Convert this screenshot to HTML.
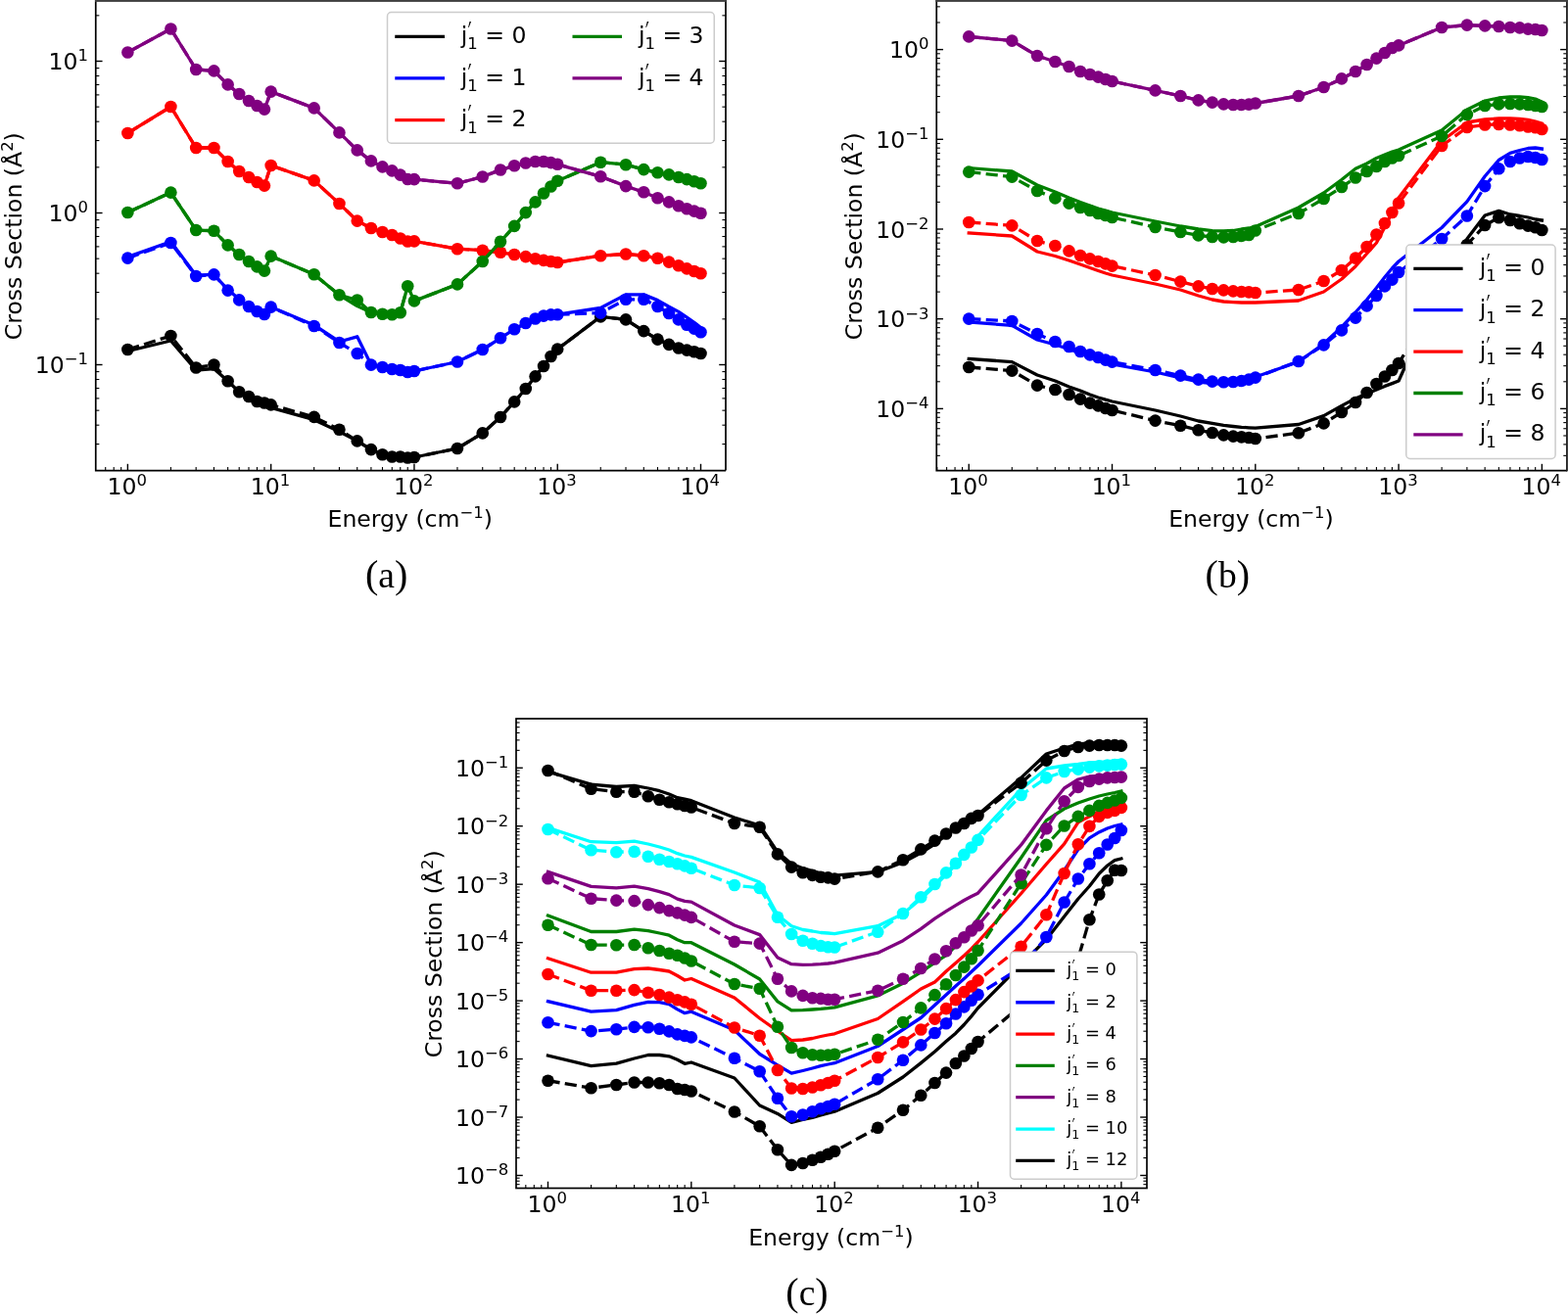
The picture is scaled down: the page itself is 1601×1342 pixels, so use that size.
<!DOCTYPE html><html><head><meta charset="utf-8"><title>Cross sections</title><style>html,body{margin:0;padding:0;background:#fff;}svg{display:block;}text{font-kerning:normal;}</style></head><body>
<svg width="1601" height="1342" viewBox="0 0 1601 1342">
<rect width="1601" height="1342" fill="#fff"/>
<defs>
<clipPath id="clipA"><rect x="97.75" y="0.75" width="643.25" height="479.85"/></clipPath>
<clipPath id="clipB"><rect x="956.25" y="0.75" width="643.65" height="479.85"/></clipPath>
<clipPath id="clipC"><rect x="527" y="734" width="644" height="479.5"/></clipPath>
</defs>
<g clip-path="url(#clipA)" fill="none" stroke-linejoin="round">
<polyline points="130.38,358.5 174.41,348 200.17,378 218.45,376.5 232.63,389.3 244.21,400.3 254,405 262.48,410 269.97,411.5 276.66,416.4 320.69,428.7 346.45,440.7 364.73,450.4 378.91,459.1 390.49,464.3 400.28,466.5 408.76,466.5 416.25,467.5 422.94,467 466.97,458 492.73,442.4 511.01,426 525.19,410.4 536.77,397 546.56,384.4 555.04,374 562.53,364 569.22,356.6 613.25,323.4 639.01,326.4 657.29,338.1 671.47,346.6 683.05,351.9 692.84,355.5 701.32,357.6 708.81,359.3 715.5,361" stroke="#000000" stroke-width="3.3" stroke-linecap="square"/>
<polyline points="130.38,357 174.41,343 200.17,375.5 218.45,372.5 232.63,389.3 244.21,400.3 254,405 262.48,410 269.97,411.5 276.66,413.4 320.69,425.9 346.45,438.7 364.73,450.4 378.91,459.1 390.49,464.3 400.28,466.5 408.76,466.5 416.25,467.5 422.94,467 466.97,458 492.73,442.4 511.01,426 525.19,410.4 536.77,397 546.56,384.4 555.04,374 562.53,364 569.22,356.6 613.25,323.4 639.01,326.4 657.29,338.1 671.47,346.6 683.05,351.9 692.84,355.5 701.32,357.6 708.81,359.3 715.5,361" stroke="#000000" stroke-width="3.3" stroke-dasharray="12.21 5.28"/>
<g fill="#000000"><circle cx="130.38" cy="357" r="6.3"/><circle cx="174.41" cy="343" r="6.3"/><circle cx="200.17" cy="375.5" r="6.3"/><circle cx="218.45" cy="372.5" r="6.3"/><circle cx="232.63" cy="389.3" r="6.3"/><circle cx="244.21" cy="400.3" r="6.3"/><circle cx="254" cy="405" r="6.3"/><circle cx="262.48" cy="410" r="6.3"/><circle cx="269.97" cy="411.5" r="6.3"/><circle cx="276.66" cy="413.4" r="6.3"/><circle cx="320.69" cy="425.9" r="6.3"/><circle cx="346.45" cy="438.7" r="6.3"/><circle cx="364.73" cy="450.4" r="6.3"/><circle cx="378.91" cy="459.1" r="6.3"/><circle cx="390.49" cy="464.3" r="6.3"/><circle cx="400.28" cy="466.5" r="6.3"/><circle cx="408.76" cy="466.5" r="6.3"/><circle cx="416.25" cy="467.5" r="6.3"/><circle cx="422.94" cy="467" r="6.3"/><circle cx="466.97" cy="458" r="6.3"/><circle cx="492.73" cy="442.4" r="6.3"/><circle cx="511.01" cy="426" r="6.3"/><circle cx="525.19" cy="410.4" r="6.3"/><circle cx="536.77" cy="397" r="6.3"/><circle cx="546.56" cy="384.4" r="6.3"/><circle cx="555.04" cy="374" r="6.3"/><circle cx="562.53" cy="364" r="6.3"/><circle cx="569.22" cy="356.6" r="6.3"/><circle cx="613.25" cy="323.4" r="6.3"/><circle cx="639.01" cy="326.4" r="6.3"/><circle cx="657.29" cy="338.1" r="6.3"/><circle cx="671.47" cy="346.6" r="6.3"/><circle cx="683.05" cy="351.9" r="6.3"/><circle cx="692.84" cy="355.5" r="6.3"/><circle cx="701.32" cy="357.6" r="6.3"/><circle cx="708.81" cy="359.3" r="6.3"/><circle cx="715.5" cy="361" r="6.3"/></g>
<polyline points="130.38,262.4 174.41,246.8 200.17,281.2 218.45,280.4 232.63,295.8 244.21,305.6 254,313 262.48,318 269.97,321 276.66,313.6 320.69,332 346.45,349 364.73,343.8 378.91,372.6 390.49,375 400.28,377 408.76,378 416.25,380 422.94,379 466.97,369.5 492.73,357 511.01,345.3 525.19,336.2 536.77,330 546.56,325.5 555.04,322.6 562.53,321.4 569.22,321.2 613.25,314.5 639.01,300.9 657.29,300.9 671.47,306.6 683.05,313.2 692.84,318.4 701.32,324.1 708.81,329.3 715.5,334.6" stroke="#0000ff" stroke-width="3.3" stroke-linecap="square"/>
<polyline points="130.38,263.6 174.41,248 200.17,282 218.45,280.4 232.63,296.6 244.21,306.4 254,313 262.48,318 269.97,321 276.66,313.6 320.69,333 346.45,350 364.73,361 378.91,372.6 390.49,375 400.28,377 408.76,378 416.25,380 422.94,379 466.97,369.5 492.73,357 511.01,345.3 525.19,336.2 536.77,330 546.56,325.5 555.04,322.6 562.53,321.4 569.22,321.2 613.25,319.6 639.01,305.8 657.29,305.8 671.47,313 683.05,320 692.84,326.4 701.32,331.7 708.81,335.6 715.5,339.2" stroke="#0000ff" stroke-width="3.3" stroke-dasharray="12.21 5.28"/>
<g fill="#0000ff"><circle cx="130.38" cy="263.6" r="6.3"/><circle cx="174.41" cy="248" r="6.3"/><circle cx="200.17" cy="282" r="6.3"/><circle cx="218.45" cy="280.4" r="6.3"/><circle cx="232.63" cy="296.6" r="6.3"/><circle cx="244.21" cy="306.4" r="6.3"/><circle cx="254" cy="313" r="6.3"/><circle cx="262.48" cy="318" r="6.3"/><circle cx="269.97" cy="321" r="6.3"/><circle cx="276.66" cy="313.6" r="6.3"/><circle cx="320.69" cy="333" r="6.3"/><circle cx="346.45" cy="350" r="6.3"/><circle cx="364.73" cy="361" r="6.3"/><circle cx="378.91" cy="372.6" r="6.3"/><circle cx="390.49" cy="375" r="6.3"/><circle cx="400.28" cy="377" r="6.3"/><circle cx="408.76" cy="378" r="6.3"/><circle cx="416.25" cy="380" r="6.3"/><circle cx="422.94" cy="379" r="6.3"/><circle cx="466.97" cy="369.5" r="6.3"/><circle cx="492.73" cy="357" r="6.3"/><circle cx="511.01" cy="345.3" r="6.3"/><circle cx="525.19" cy="336.2" r="6.3"/><circle cx="536.77" cy="330" r="6.3"/><circle cx="546.56" cy="325.5" r="6.3"/><circle cx="555.04" cy="322.6" r="6.3"/><circle cx="562.53" cy="321.4" r="6.3"/><circle cx="569.22" cy="321.2" r="6.3"/><circle cx="613.25" cy="319.6" r="6.3"/><circle cx="639.01" cy="305.8" r="6.3"/><circle cx="657.29" cy="305.8" r="6.3"/><circle cx="671.47" cy="313" r="6.3"/><circle cx="683.05" cy="320" r="6.3"/><circle cx="692.84" cy="326.4" r="6.3"/><circle cx="701.32" cy="331.7" r="6.3"/><circle cx="708.81" cy="335.6" r="6.3"/><circle cx="715.5" cy="339.2" r="6.3"/></g>
<polyline points="130.38,136 174.41,109 200.17,151 218.45,151 232.63,165 244.21,175 254,181 262.48,186 269.97,189.6 276.66,169 320.69,184.4 346.45,208 364.73,225.6 378.91,233 390.49,237 400.28,240 408.76,243.5 416.25,246.5 422.94,246.4 466.97,254.2 492.73,255.7 511.01,257.8 525.19,260 536.77,262.1 546.56,264.2 555.04,265.9 562.53,267 569.22,268 613.25,261.2 639.01,259.5 657.29,261.2 671.47,263.8 683.05,267.6 692.84,271.2 701.32,274.4 708.81,277 715.5,279.3" stroke="#ff0000" stroke-width="3.3" stroke-linecap="square"/>
<polyline points="130.38,136 174.41,109 200.17,151 218.45,151 232.63,165 244.21,175 254,181 262.48,186 269.97,189.6 276.66,169 320.69,184.4 346.45,208 364.73,225.6 378.91,233 390.49,237 400.28,240 408.76,243.5 416.25,246.5 422.94,246.4 466.97,254.2 492.73,255.7 511.01,257.8 525.19,260 536.77,262.1 546.56,264.2 555.04,265.9 562.53,267 569.22,268 613.25,261.2 639.01,259.5 657.29,261.2 671.47,263.8 683.05,267.6 692.84,271.2 701.32,274.4 708.81,277 715.5,279.3" stroke="#ff0000" stroke-width="3.3" stroke-dasharray="12.21 5.28"/>
<g fill="#ff0000"><circle cx="130.38" cy="136" r="6.3"/><circle cx="174.41" cy="109" r="6.3"/><circle cx="200.17" cy="151" r="6.3"/><circle cx="218.45" cy="151" r="6.3"/><circle cx="232.63" cy="165" r="6.3"/><circle cx="244.21" cy="175" r="6.3"/><circle cx="254" cy="181" r="6.3"/><circle cx="262.48" cy="186" r="6.3"/><circle cx="269.97" cy="189.6" r="6.3"/><circle cx="276.66" cy="169" r="6.3"/><circle cx="320.69" cy="184.4" r="6.3"/><circle cx="346.45" cy="208" r="6.3"/><circle cx="364.73" cy="225.6" r="6.3"/><circle cx="378.91" cy="233" r="6.3"/><circle cx="390.49" cy="237" r="6.3"/><circle cx="400.28" cy="240" r="6.3"/><circle cx="408.76" cy="243.5" r="6.3"/><circle cx="416.25" cy="246.5" r="6.3"/><circle cx="422.94" cy="246.4" r="6.3"/><circle cx="466.97" cy="254.2" r="6.3"/><circle cx="492.73" cy="255.7" r="6.3"/><circle cx="511.01" cy="257.8" r="6.3"/><circle cx="525.19" cy="260" r="6.3"/><circle cx="536.77" cy="262.1" r="6.3"/><circle cx="546.56" cy="264.2" r="6.3"/><circle cx="555.04" cy="265.9" r="6.3"/><circle cx="562.53" cy="267" r="6.3"/><circle cx="569.22" cy="268" r="6.3"/><circle cx="613.25" cy="261.2" r="6.3"/><circle cx="639.01" cy="259.5" r="6.3"/><circle cx="657.29" cy="261.2" r="6.3"/><circle cx="671.47" cy="263.8" r="6.3"/><circle cx="683.05" cy="267.6" r="6.3"/><circle cx="692.84" cy="271.2" r="6.3"/><circle cx="701.32" cy="274.4" r="6.3"/><circle cx="708.81" cy="277" r="6.3"/><circle cx="715.5" cy="279.3" r="6.3"/></g>
<polyline points="130.38,217 174.41,196.6 200.17,235 218.45,235.8 232.63,250.4 244.21,260 254,267 262.48,272.4 269.97,276.6 276.66,261.6 320.69,280.2 346.45,301.3 364.73,312.5 378.91,319 390.49,320.8 400.28,321.2 408.76,319.2 416.25,292.2 422.94,307.4 466.97,290.4 492.73,267 511.01,246.8 525.19,230.9 536.77,217.1 546.56,206.4 555.04,197.5 562.53,190.5 569.22,184.8 613.25,165.7 639.01,168.2 657.29,173.1 671.47,176.3 683.05,178.4 692.84,181 701.32,183.1 708.81,185.2 715.5,187.3" stroke="#008000" stroke-width="3.3" stroke-linecap="square"/>
<polyline points="130.38,217 174.41,196.6 200.17,235 218.45,235.8 232.63,250.4 244.21,260 254,267 262.48,272.4 269.97,276.6 276.66,261.6 320.69,280.2 346.45,301.3 364.73,306.5 378.91,319 390.49,320.8 400.28,321.2 408.76,319.2 416.25,292.2 422.94,307.4 466.97,290.4 492.73,267 511.01,246.8 525.19,230.9 536.77,217.1 546.56,206.4 555.04,197.5 562.53,190.5 569.22,184.8 613.25,165.7 639.01,168.2 657.29,173.1 671.47,176.3 683.05,178.4 692.84,181 701.32,183.1 708.81,185.2 715.5,187.3" stroke="#008000" stroke-width="3.3" stroke-dasharray="12.21 5.28"/>
<g fill="#008000"><circle cx="130.38" cy="217" r="6.3"/><circle cx="174.41" cy="196.6" r="6.3"/><circle cx="200.17" cy="235" r="6.3"/><circle cx="218.45" cy="235.8" r="6.3"/><circle cx="232.63" cy="250.4" r="6.3"/><circle cx="244.21" cy="260" r="6.3"/><circle cx="254" cy="267" r="6.3"/><circle cx="262.48" cy="272.4" r="6.3"/><circle cx="269.97" cy="276.6" r="6.3"/><circle cx="276.66" cy="261.6" r="6.3"/><circle cx="320.69" cy="280.2" r="6.3"/><circle cx="346.45" cy="301.3" r="6.3"/><circle cx="364.73" cy="306.5" r="6.3"/><circle cx="378.91" cy="319" r="6.3"/><circle cx="390.49" cy="320.8" r="6.3"/><circle cx="400.28" cy="321.2" r="6.3"/><circle cx="408.76" cy="319.2" r="6.3"/><circle cx="416.25" cy="292.2" r="6.3"/><circle cx="422.94" cy="307.4" r="6.3"/><circle cx="466.97" cy="290.4" r="6.3"/><circle cx="492.73" cy="267" r="6.3"/><circle cx="511.01" cy="246.8" r="6.3"/><circle cx="525.19" cy="230.9" r="6.3"/><circle cx="536.77" cy="217.1" r="6.3"/><circle cx="546.56" cy="206.4" r="6.3"/><circle cx="555.04" cy="197.5" r="6.3"/><circle cx="562.53" cy="190.5" r="6.3"/><circle cx="569.22" cy="184.8" r="6.3"/><circle cx="613.25" cy="165.7" r="6.3"/><circle cx="639.01" cy="168.2" r="6.3"/><circle cx="657.29" cy="173.1" r="6.3"/><circle cx="671.47" cy="176.3" r="6.3"/><circle cx="683.05" cy="178.4" r="6.3"/><circle cx="692.84" cy="181" r="6.3"/><circle cx="701.32" cy="183.1" r="6.3"/><circle cx="708.81" cy="185.2" r="6.3"/><circle cx="715.5" cy="187.3" r="6.3"/></g>
<polyline points="130.38,53.5 174.41,29.5 200.17,71 218.45,72.4 232.63,86.4 244.21,96 254,103 262.48,108 269.97,111.6 276.66,93.6 320.69,110.4 346.45,135.4 364.73,153.4 378.91,164.4 390.49,170.4 400.28,174.4 408.76,178.6 416.25,183 422.94,183.1 466.97,187.3 492.73,180.5 511.01,173.5 525.19,169.3 536.77,166.5 546.56,165 555.04,165 562.53,166.1 569.22,167.8 613.25,180.3 639.01,190.1 657.29,196.3 671.47,202.2 683.05,206.4 692.84,210.3 701.32,213.2 708.81,215.6 715.5,217.7" stroke="#800080" stroke-width="3.3" stroke-linecap="square"/>
<polyline points="130.38,53.5 174.41,29.5 200.17,71 218.45,72.4 232.63,86.4 244.21,96 254,103 262.48,108 269.97,111.6 276.66,93.6 320.69,110.4 346.45,135.4 364.73,153.4 378.91,164.4 390.49,170.4 400.28,174.4 408.76,178.6 416.25,183 422.94,183.1 466.97,187.3 492.73,180.5 511.01,173.5 525.19,169.3 536.77,166.5 546.56,165 555.04,165 562.53,166.1 569.22,167.8 613.25,180.3 639.01,190.1 657.29,196.3 671.47,202.2 683.05,206.4 692.84,210.3 701.32,213.2 708.81,215.6 715.5,217.7" stroke="#800080" stroke-width="3.3" stroke-dasharray="12.21 5.28"/>
<g fill="#800080"><circle cx="130.38" cy="53.5" r="6.3"/><circle cx="174.41" cy="29.5" r="6.3"/><circle cx="200.17" cy="71" r="6.3"/><circle cx="218.45" cy="72.4" r="6.3"/><circle cx="232.63" cy="86.4" r="6.3"/><circle cx="244.21" cy="96" r="6.3"/><circle cx="254" cy="103" r="6.3"/><circle cx="262.48" cy="108" r="6.3"/><circle cx="269.97" cy="111.6" r="6.3"/><circle cx="276.66" cy="93.6" r="6.3"/><circle cx="320.69" cy="110.4" r="6.3"/><circle cx="346.45" cy="135.4" r="6.3"/><circle cx="364.73" cy="153.4" r="6.3"/><circle cx="378.91" cy="164.4" r="6.3"/><circle cx="390.49" cy="170.4" r="6.3"/><circle cx="400.28" cy="174.4" r="6.3"/><circle cx="408.76" cy="178.6" r="6.3"/><circle cx="416.25" cy="183" r="6.3"/><circle cx="422.94" cy="183.1" r="6.3"/><circle cx="466.97" cy="187.3" r="6.3"/><circle cx="492.73" cy="180.5" r="6.3"/><circle cx="511.01" cy="173.5" r="6.3"/><circle cx="525.19" cy="169.3" r="6.3"/><circle cx="536.77" cy="166.5" r="6.3"/><circle cx="546.56" cy="165" r="6.3"/><circle cx="555.04" cy="165" r="6.3"/><circle cx="562.53" cy="166.1" r="6.3"/><circle cx="569.22" cy="167.8" r="6.3"/><circle cx="613.25" cy="180.3" r="6.3"/><circle cx="639.01" cy="190.1" r="6.3"/><circle cx="657.29" cy="196.3" r="6.3"/><circle cx="671.47" cy="202.2" r="6.3"/><circle cx="683.05" cy="206.4" r="6.3"/><circle cx="692.84" cy="210.3" r="6.3"/><circle cx="701.32" cy="213.2" r="6.3"/><circle cx="708.81" cy="215.6" r="6.3"/><circle cx="715.5" cy="217.7" r="6.3"/></g>
</g>
<g stroke="#000" fill="none"><line x1="107.72" y1="480.6" x2="107.72" y2="477" stroke-width="1.1"/><line x1="116.2" y1="480.6" x2="116.2" y2="477" stroke-width="1.1"/><line x1="123.69" y1="480.6" x2="123.69" y2="477" stroke-width="1.1"/><line x1="130.38" y1="480.6" x2="130.38" y2="473.8" stroke-width="1.4"/><line x1="174.41" y1="480.6" x2="174.41" y2="477" stroke-width="1.1"/><line x1="200.17" y1="480.6" x2="200.17" y2="477" stroke-width="1.1"/><line x1="218.45" y1="480.6" x2="218.45" y2="477" stroke-width="1.1"/><line x1="232.63" y1="480.6" x2="232.63" y2="477" stroke-width="1.1"/><line x1="244.21" y1="480.6" x2="244.21" y2="477" stroke-width="1.1"/><line x1="254" y1="480.6" x2="254" y2="477" stroke-width="1.1"/><line x1="262.48" y1="480.6" x2="262.48" y2="477" stroke-width="1.1"/><line x1="269.97" y1="480.6" x2="269.97" y2="477" stroke-width="1.1"/><line x1="276.66" y1="480.6" x2="276.66" y2="473.8" stroke-width="1.4"/><line x1="320.69" y1="480.6" x2="320.69" y2="477" stroke-width="1.1"/><line x1="346.45" y1="480.6" x2="346.45" y2="477" stroke-width="1.1"/><line x1="364.73" y1="480.6" x2="364.73" y2="477" stroke-width="1.1"/><line x1="378.91" y1="480.6" x2="378.91" y2="477" stroke-width="1.1"/><line x1="390.49" y1="480.6" x2="390.49" y2="477" stroke-width="1.1"/><line x1="400.28" y1="480.6" x2="400.28" y2="477" stroke-width="1.1"/><line x1="408.76" y1="480.6" x2="408.76" y2="477" stroke-width="1.1"/><line x1="416.25" y1="480.6" x2="416.25" y2="477" stroke-width="1.1"/><line x1="422.94" y1="480.6" x2="422.94" y2="473.8" stroke-width="1.4"/><line x1="466.97" y1="480.6" x2="466.97" y2="477" stroke-width="1.1"/><line x1="492.73" y1="480.6" x2="492.73" y2="477" stroke-width="1.1"/><line x1="511.01" y1="480.6" x2="511.01" y2="477" stroke-width="1.1"/><line x1="525.19" y1="480.6" x2="525.19" y2="477" stroke-width="1.1"/><line x1="536.77" y1="480.6" x2="536.77" y2="477" stroke-width="1.1"/><line x1="546.56" y1="480.6" x2="546.56" y2="477" stroke-width="1.1"/><line x1="555.04" y1="480.6" x2="555.04" y2="477" stroke-width="1.1"/><line x1="562.53" y1="480.6" x2="562.53" y2="477" stroke-width="1.1"/><line x1="569.22" y1="480.6" x2="569.22" y2="473.8" stroke-width="1.4"/><line x1="613.25" y1="480.6" x2="613.25" y2="477" stroke-width="1.1"/><line x1="639.01" y1="480.6" x2="639.01" y2="477" stroke-width="1.1"/><line x1="657.29" y1="480.6" x2="657.29" y2="477" stroke-width="1.1"/><line x1="671.47" y1="480.6" x2="671.47" y2="477" stroke-width="1.1"/><line x1="683.05" y1="480.6" x2="683.05" y2="477" stroke-width="1.1"/><line x1="692.84" y1="480.6" x2="692.84" y2="477" stroke-width="1.1"/><line x1="701.32" y1="480.6" x2="701.32" y2="477" stroke-width="1.1"/><line x1="708.81" y1="480.6" x2="708.81" y2="477" stroke-width="1.1"/><line x1="715.5" y1="480.6" x2="715.5" y2="473.8" stroke-width="1.4"/><line x1="97.75" y1="453.55" x2="101.35" y2="453.55" stroke-width="1.1"/><line x1="741" y1="453.55" x2="737.4" y2="453.55" stroke-width="1.1"/><line x1="97.75" y1="434.18" x2="101.35" y2="434.18" stroke-width="1.1"/><line x1="741" y1="434.18" x2="737.4" y2="434.18" stroke-width="1.1"/><line x1="97.75" y1="419.16" x2="101.35" y2="419.16" stroke-width="1.1"/><line x1="741" y1="419.16" x2="737.4" y2="419.16" stroke-width="1.1"/><line x1="97.75" y1="406.89" x2="101.35" y2="406.89" stroke-width="1.1"/><line x1="741" y1="406.89" x2="737.4" y2="406.89" stroke-width="1.1"/><line x1="97.75" y1="396.51" x2="101.35" y2="396.51" stroke-width="1.1"/><line x1="741" y1="396.51" x2="737.4" y2="396.51" stroke-width="1.1"/><line x1="97.75" y1="387.52" x2="101.35" y2="387.52" stroke-width="1.1"/><line x1="741" y1="387.52" x2="737.4" y2="387.52" stroke-width="1.1"/><line x1="97.75" y1="379.59" x2="101.35" y2="379.59" stroke-width="1.1"/><line x1="741" y1="379.59" x2="737.4" y2="379.59" stroke-width="1.1"/><line x1="97.75" y1="372.5" x2="104.55" y2="372.5" stroke-width="1.4"/><line x1="741" y1="372.5" x2="734.2" y2="372.5" stroke-width="1.4"/><line x1="97.75" y1="325.84" x2="101.35" y2="325.84" stroke-width="1.1"/><line x1="741" y1="325.84" x2="737.4" y2="325.84" stroke-width="1.1"/><line x1="97.75" y1="298.55" x2="101.35" y2="298.55" stroke-width="1.1"/><line x1="741" y1="298.55" x2="737.4" y2="298.55" stroke-width="1.1"/><line x1="97.75" y1="279.18" x2="101.35" y2="279.18" stroke-width="1.1"/><line x1="741" y1="279.18" x2="737.4" y2="279.18" stroke-width="1.1"/><line x1="97.75" y1="264.16" x2="101.35" y2="264.16" stroke-width="1.1"/><line x1="741" y1="264.16" x2="737.4" y2="264.16" stroke-width="1.1"/><line x1="97.75" y1="251.89" x2="101.35" y2="251.89" stroke-width="1.1"/><line x1="741" y1="251.89" x2="737.4" y2="251.89" stroke-width="1.1"/><line x1="97.75" y1="241.51" x2="101.35" y2="241.51" stroke-width="1.1"/><line x1="741" y1="241.51" x2="737.4" y2="241.51" stroke-width="1.1"/><line x1="97.75" y1="232.52" x2="101.35" y2="232.52" stroke-width="1.1"/><line x1="741" y1="232.52" x2="737.4" y2="232.52" stroke-width="1.1"/><line x1="97.75" y1="224.59" x2="101.35" y2="224.59" stroke-width="1.1"/><line x1="741" y1="224.59" x2="737.4" y2="224.59" stroke-width="1.1"/><line x1="97.75" y1="217.5" x2="104.55" y2="217.5" stroke-width="1.4"/><line x1="741" y1="217.5" x2="734.2" y2="217.5" stroke-width="1.4"/><line x1="97.75" y1="170.84" x2="101.35" y2="170.84" stroke-width="1.1"/><line x1="741" y1="170.84" x2="737.4" y2="170.84" stroke-width="1.1"/><line x1="97.75" y1="143.55" x2="101.35" y2="143.55" stroke-width="1.1"/><line x1="741" y1="143.55" x2="737.4" y2="143.55" stroke-width="1.1"/><line x1="97.75" y1="124.18" x2="101.35" y2="124.18" stroke-width="1.1"/><line x1="741" y1="124.18" x2="737.4" y2="124.18" stroke-width="1.1"/><line x1="97.75" y1="109.16" x2="101.35" y2="109.16" stroke-width="1.1"/><line x1="741" y1="109.16" x2="737.4" y2="109.16" stroke-width="1.1"/><line x1="97.75" y1="96.89" x2="101.35" y2="96.89" stroke-width="1.1"/><line x1="741" y1="96.89" x2="737.4" y2="96.89" stroke-width="1.1"/><line x1="97.75" y1="86.51" x2="101.35" y2="86.51" stroke-width="1.1"/><line x1="741" y1="86.51" x2="737.4" y2="86.51" stroke-width="1.1"/><line x1="97.75" y1="77.52" x2="101.35" y2="77.52" stroke-width="1.1"/><line x1="741" y1="77.52" x2="737.4" y2="77.52" stroke-width="1.1"/><line x1="97.75" y1="69.59" x2="101.35" y2="69.59" stroke-width="1.1"/><line x1="741" y1="69.59" x2="737.4" y2="69.59" stroke-width="1.1"/><line x1="97.75" y1="62.5" x2="104.55" y2="62.5" stroke-width="1.4"/><line x1="741" y1="62.5" x2="734.2" y2="62.5" stroke-width="1.4"/><line x1="97.75" y1="15.84" x2="101.35" y2="15.84" stroke-width="1.1"/><line x1="741" y1="15.84" x2="737.4" y2="15.84" stroke-width="1.1"/></g>
<path d="M97.75,0 V480.6 H741" fill="none" stroke="#000" stroke-width="1.7" stroke-linejoin="miter"/>
<path d="M741,480.6 V0" fill="none" stroke="#000" stroke-width="1.7"/>
<rect x="97" y="0" width="644.75" height="1.9" fill="#404040"/>
<g font-family="'DejaVu Sans', 'Liberation Sans', sans-serif" fill="#000">
<text x="109.48" y="504.8" font-size="23.55">10</text>
<text x="139.45" y="495.9" font-size="16.48">0</text>
<text x="255.76" y="504.8" font-size="23.55">10</text>
<text x="285.73" y="495.9" font-size="16.48">1</text>
<text x="402.04" y="504.8" font-size="23.55">10</text>
<text x="432.01" y="495.9" font-size="16.48">2</text>
<text x="548.32" y="504.8" font-size="23.55">10</text>
<text x="578.29" y="495.9" font-size="16.48">3</text>
<text x="694.6" y="504.8" font-size="23.55">10</text>
<text x="724.57" y="495.9" font-size="16.48">4</text>
<text x="49.55" y="71.25" font-size="23.55">10</text>
<text x="79.51" y="62.35" font-size="16.48">1</text>
<text x="49.55" y="226.25" font-size="23.55">10</text>
<text x="79.51" y="217.35" font-size="16.48">0</text>
<text x="35.73" y="381.25" font-size="23.55">10</text>
<text x="65.7" y="372.35" font-size="16.48">−1</text>
</g>
<g font-family="'DejaVu Sans', 'Liberation Sans', sans-serif" fill="#000">
<text x="334.53" y="538.2" font-size="23.55">Energy (cm</text>
<text x="469.54" y="529.3" font-size="16.48">−1</text>
<text x="493.84" y="538.2" font-size="23.55">)</text>
<g transform="translate(21.8,241.18) rotate(-90)">
<text x="-106" y="0" font-size="23.55">Cross Section (Å</text>
<text x="86.32" y="-8.9" font-size="16.48">2</text>
<text x="96.81" y="0" font-size="23.55">)</text>
</g>
</g>
<rect x="395.5" y="12.5" width="333.75" height="133.75" rx="4" ry="4" fill="#fff" stroke="#cccccc" stroke-width="1.5"/>
<g font-family="'DejaVu Sans', 'Liberation Sans', sans-serif" fill="#000">
<line x1="403.25" y1="37.35" x2="454" y2="37.35" stroke="#000000" stroke-width="3.3"/>
<text x="470.7" y="43.94" font-size="23.55">j</text>
<text x="477.24" y="50.3" font-size="16.48">1</text>
<text x="0" y="0" font-size="16.48" transform="translate(477.71,44.96) scale(1,1.9)">′</text>
<text x="487.73" y="43.94" font-size="23.55" xml:space="preserve"> = 0</text>
<line x1="403.25" y1="79.95" x2="454" y2="79.95" stroke="#0000ff" stroke-width="3.3"/>
<text x="470.7" y="86.54" font-size="23.55">j</text>
<text x="477.24" y="92.9" font-size="16.48">1</text>
<text x="0" y="0" font-size="16.48" transform="translate(477.71,87.56) scale(1,1.9)">′</text>
<text x="487.73" y="86.54" font-size="23.55" xml:space="preserve"> = 1</text>
<line x1="403.25" y1="122.55" x2="454" y2="122.55" stroke="#ff0000" stroke-width="3.3"/>
<text x="470.7" y="129.14" font-size="23.55">j</text>
<text x="477.24" y="135.5" font-size="16.48">1</text>
<text x="0" y="0" font-size="16.48" transform="translate(477.71,130.16) scale(1,1.9)">′</text>
<text x="487.73" y="129.14" font-size="23.55" xml:space="preserve"> = 2</text>
<line x1="584.5" y1="37.35" x2="635" y2="37.35" stroke="#008000" stroke-width="3.3"/>
<text x="651.9" y="43.94" font-size="23.55">j</text>
<text x="658.44" y="50.3" font-size="16.48">1</text>
<text x="0" y="0" font-size="16.48" transform="translate(658.91,44.96) scale(1,1.9)">′</text>
<text x="668.93" y="43.94" font-size="23.55" xml:space="preserve"> = 3</text>
<line x1="584.5" y1="79.95" x2="635" y2="79.95" stroke="#800080" stroke-width="3.3"/>
<text x="651.9" y="86.54" font-size="23.55">j</text>
<text x="658.44" y="92.9" font-size="16.48">1</text>
<text x="0" y="0" font-size="16.48" transform="translate(658.91,87.56) scale(1,1.9)">′</text>
<text x="668.93" y="86.54" font-size="23.55" xml:space="preserve"> = 4</text>
</g>
<text x="394.6" y="600" font-family="'Liberation Serif', 'DejaVu Serif', serif" font-size="40" text-anchor="middle" fill="#000">(<tspan font-size="37.5">a</tspan>)</text>
<g clip-path="url(#clipB)" fill="none" stroke-linejoin="round">
<polyline points="989.25,366.4 1033.28,369.6 1059.04,383 1077.32,389 1091.5,395 1103.08,399 1112.87,403 1121.35,406 1128.84,408.2 1135.53,410 1179.56,419 1205.32,425 1223.6,430 1237.78,432.4 1249.36,434.4 1259.15,435.5 1267.63,436.3 1275.12,436.8 1281.81,437.2 1325.84,433.5 1351.6,424.6 1369.88,414.4 1384.06,407 1395.64,402 1405.43,398 1413.91,394.4 1421.4,391.6 1428.09,389 1472.12,291 1497.88,244 1516.16,220 1530.34,215.4 1541.92,219 1551.71,220.5 1560.19,222 1567.68,224 1574.37,225" stroke="#000000" stroke-width="3.3" stroke-linecap="square"/>
<polyline points="989.25,375 1033.28,378.6 1059.04,393.6 1077.32,398 1091.5,403 1103.08,407.6 1112.87,411.6 1121.35,414.4 1128.84,417 1135.53,419 1179.56,429.6 1205.32,434.7 1223.6,439.2 1237.78,442 1249.36,444.4 1259.15,445.6 1267.63,446.4 1275.12,447 1281.81,448 1325.84,442.2 1351.6,432.4 1369.88,421 1384.06,411 1395.64,401 1405.43,392 1413.91,384.5 1421.4,378 1428.09,371 1472.12,300 1497.88,250 1516.16,230 1530.34,222.2 1541.92,225 1551.71,228.3 1560.19,230.6 1567.68,232.3 1574.37,235" stroke="#000000" stroke-width="3.3" stroke-dasharray="12.21 5.28"/>
<g fill="#000000"><circle cx="989.25" cy="375" r="6.3"/><circle cx="1033.28" cy="378.6" r="6.3"/><circle cx="1059.04" cy="393.6" r="6.3"/><circle cx="1077.32" cy="398" r="6.3"/><circle cx="1091.5" cy="403" r="6.3"/><circle cx="1103.08" cy="407.6" r="6.3"/><circle cx="1112.87" cy="411.6" r="6.3"/><circle cx="1121.35" cy="414.4" r="6.3"/><circle cx="1128.84" cy="417" r="6.3"/><circle cx="1135.53" cy="419" r="6.3"/><circle cx="1179.56" cy="429.6" r="6.3"/><circle cx="1205.32" cy="434.7" r="6.3"/><circle cx="1223.6" cy="439.2" r="6.3"/><circle cx="1237.78" cy="442" r="6.3"/><circle cx="1249.36" cy="444.4" r="6.3"/><circle cx="1259.15" cy="445.6" r="6.3"/><circle cx="1267.63" cy="446.4" r="6.3"/><circle cx="1275.12" cy="447" r="6.3"/><circle cx="1281.81" cy="448" r="6.3"/><circle cx="1325.84" cy="442.2" r="6.3"/><circle cx="1351.6" cy="432.4" r="6.3"/><circle cx="1369.88" cy="421" r="6.3"/><circle cx="1384.06" cy="411" r="6.3"/><circle cx="1395.64" cy="401" r="6.3"/><circle cx="1405.43" cy="392" r="6.3"/><circle cx="1413.91" cy="384.5" r="6.3"/><circle cx="1421.4" cy="378" r="6.3"/><circle cx="1428.09" cy="371" r="6.3"/><circle cx="1472.12" cy="300" r="6.3"/><circle cx="1497.88" cy="250" r="6.3"/><circle cx="1516.16" cy="230" r="6.3"/><circle cx="1530.34" cy="222.2" r="6.3"/><circle cx="1541.92" cy="225" r="6.3"/><circle cx="1551.71" cy="228.3" r="6.3"/><circle cx="1560.19" cy="230.6" r="6.3"/><circle cx="1567.68" cy="232.3" r="6.3"/><circle cx="1574.37" cy="235" r="6.3"/></g>
<polyline points="989.25,329 1033.28,332.4 1059.04,347 1077.32,352 1091.5,356.5 1103.08,361 1112.87,364 1121.35,367 1128.84,369.5 1135.53,372 1179.56,380 1205.32,386 1223.6,390 1237.78,391.5 1249.36,392 1259.15,391.6 1267.63,390.5 1275.12,389 1281.81,385 1325.84,369.5 1351.6,351 1369.88,334 1384.06,319 1395.64,306 1405.43,294 1413.91,283 1421.4,274 1428.09,267 1472.12,232.5 1497.88,205.9 1516.16,180 1530.34,163.5 1541.92,156.3 1551.71,153.5 1560.19,151.5 1567.68,151 1574.37,152" stroke="#0000ff" stroke-width="3.3" stroke-linecap="square"/>
<polyline points="989.25,325.6 1033.28,328 1059.04,341 1077.32,349 1091.5,354 1103.08,359 1112.87,362.4 1121.35,365 1128.84,367.6 1135.53,369.6 1179.56,378 1205.32,383.6 1223.6,387.6 1237.78,389.6 1249.36,390.2 1259.15,390 1267.63,389 1275.12,387.6 1281.81,385.6 1325.84,369 1351.6,352.4 1369.88,337.4 1384.06,324.6 1395.64,312.4 1405.43,302 1413.91,292.4 1421.4,285.6 1428.09,278 1472.12,244 1497.88,220.5 1516.16,190.1 1530.34,172.3 1541.92,165 1551.71,161.5 1560.19,160 1567.68,161 1574.37,163" stroke="#0000ff" stroke-width="3.3" stroke-dasharray="12.21 5.28"/>
<g fill="#0000ff"><circle cx="989.25" cy="325.6" r="6.3"/><circle cx="1033.28" cy="328" r="6.3"/><circle cx="1059.04" cy="341" r="6.3"/><circle cx="1077.32" cy="349" r="6.3"/><circle cx="1091.5" cy="354" r="6.3"/><circle cx="1103.08" cy="359" r="6.3"/><circle cx="1112.87" cy="362.4" r="6.3"/><circle cx="1121.35" cy="365" r="6.3"/><circle cx="1128.84" cy="367.6" r="6.3"/><circle cx="1135.53" cy="369.6" r="6.3"/><circle cx="1179.56" cy="378" r="6.3"/><circle cx="1205.32" cy="383.6" r="6.3"/><circle cx="1223.6" cy="387.6" r="6.3"/><circle cx="1237.78" cy="389.6" r="6.3"/><circle cx="1249.36" cy="390.2" r="6.3"/><circle cx="1259.15" cy="390" r="6.3"/><circle cx="1267.63" cy="389" r="6.3"/><circle cx="1275.12" cy="387.6" r="6.3"/><circle cx="1281.81" cy="385.6" r="6.3"/><circle cx="1325.84" cy="369" r="6.3"/><circle cx="1351.6" cy="352.4" r="6.3"/><circle cx="1369.88" cy="337.4" r="6.3"/><circle cx="1384.06" cy="324.6" r="6.3"/><circle cx="1395.64" cy="312.4" r="6.3"/><circle cx="1405.43" cy="302" r="6.3"/><circle cx="1413.91" cy="292.4" r="6.3"/><circle cx="1421.4" cy="285.6" r="6.3"/><circle cx="1428.09" cy="278" r="6.3"/><circle cx="1472.12" cy="244" r="6.3"/><circle cx="1497.88" cy="220.5" r="6.3"/><circle cx="1516.16" cy="190.1" r="6.3"/><circle cx="1530.34" cy="172.3" r="6.3"/><circle cx="1541.92" cy="165" r="6.3"/><circle cx="1551.71" cy="161.5" r="6.3"/><circle cx="1560.19" cy="160" r="6.3"/><circle cx="1567.68" cy="161" r="6.3"/><circle cx="1574.37" cy="163" r="6.3"/></g>
<polyline points="989.25,238 1033.28,241 1059.04,257 1077.32,261.5 1091.5,266 1103.08,270 1112.87,273.5 1121.35,276.5 1128.84,279 1135.53,281 1179.56,290 1205.32,296 1223.6,302 1237.78,306 1249.36,308 1259.15,308.6 1267.63,309 1275.12,309 1281.81,309 1325.84,307 1351.6,298 1369.88,285 1384.06,272 1395.64,259 1405.43,248 1413.91,232 1421.4,217 1428.09,202 1472.12,144 1497.88,125 1516.16,122 1530.34,121 1541.92,121 1551.71,121.5 1560.19,122.3 1567.68,124 1574.37,126" stroke="#ff0000" stroke-width="3.3" stroke-linecap="square"/>
<polyline points="989.25,227 1033.28,230.4 1059.04,246 1077.32,251 1091.5,256.4 1103.08,261 1112.87,264.4 1121.35,267 1128.84,269.4 1135.53,271.6 1179.56,281 1205.32,287.6 1223.6,292.4 1237.78,295 1249.36,296.4 1259.15,297.4 1267.63,298 1275.12,298.4 1281.81,299 1325.84,296 1351.6,287 1369.88,276 1384.06,263.6 1395.64,252 1405.43,239.5 1413.91,228 1421.4,217 1428.09,207.5 1472.12,149 1497.88,130 1516.16,127.5 1530.34,127 1541.92,127.5 1551.71,128.3 1560.19,129.5 1567.68,130.3 1574.37,132" stroke="#ff0000" stroke-width="3.3" stroke-dasharray="12.21 5.28"/>
<g fill="#ff0000"><circle cx="989.25" cy="227" r="6.3"/><circle cx="1033.28" cy="230.4" r="6.3"/><circle cx="1059.04" cy="246" r="6.3"/><circle cx="1077.32" cy="251" r="6.3"/><circle cx="1091.5" cy="256.4" r="6.3"/><circle cx="1103.08" cy="261" r="6.3"/><circle cx="1112.87" cy="264.4" r="6.3"/><circle cx="1121.35" cy="267" r="6.3"/><circle cx="1128.84" cy="269.4" r="6.3"/><circle cx="1135.53" cy="271.6" r="6.3"/><circle cx="1179.56" cy="281" r="6.3"/><circle cx="1205.32" cy="287.6" r="6.3"/><circle cx="1223.6" cy="292.4" r="6.3"/><circle cx="1237.78" cy="295" r="6.3"/><circle cx="1249.36" cy="296.4" r="6.3"/><circle cx="1259.15" cy="297.4" r="6.3"/><circle cx="1267.63" cy="298" r="6.3"/><circle cx="1275.12" cy="298.4" r="6.3"/><circle cx="1281.81" cy="299" r="6.3"/><circle cx="1325.84" cy="296" r="6.3"/><circle cx="1351.6" cy="287" r="6.3"/><circle cx="1369.88" cy="276" r="6.3"/><circle cx="1384.06" cy="263.6" r="6.3"/><circle cx="1395.64" cy="252" r="6.3"/><circle cx="1405.43" cy="239.5" r="6.3"/><circle cx="1413.91" cy="228" r="6.3"/><circle cx="1421.4" cy="217" r="6.3"/><circle cx="1428.09" cy="207.5" r="6.3"/><circle cx="1472.12" cy="149" r="6.3"/><circle cx="1497.88" cy="130" r="6.3"/><circle cx="1516.16" cy="127.5" r="6.3"/><circle cx="1530.34" cy="127" r="6.3"/><circle cx="1541.92" cy="127.5" r="6.3"/><circle cx="1551.71" cy="128.3" r="6.3"/><circle cx="1560.19" cy="129.5" r="6.3"/><circle cx="1567.68" cy="130.3" r="6.3"/><circle cx="1574.37" cy="132" r="6.3"/></g>
<polyline points="989.25,171.6 1033.28,175 1059.04,189 1077.32,196 1091.5,202 1103.08,206.5 1112.87,210 1121.35,213 1128.84,215 1135.53,217 1179.56,226 1205.32,231 1223.6,234 1237.78,235.6 1249.36,236 1259.15,235.5 1267.63,234 1275.12,233 1281.81,231.5 1325.84,212 1351.6,197 1369.88,183.5 1384.06,172.3 1395.64,167 1405.43,161.5 1413.91,158 1421.4,155 1428.09,153 1472.12,133 1497.88,112 1516.16,103 1530.34,100 1541.92,99 1551.71,99 1560.19,99.6 1567.68,101 1574.37,104" stroke="#008000" stroke-width="3.3" stroke-linecap="square"/>
<polyline points="989.25,175.6 1033.28,180.6 1059.04,195 1077.32,202.4 1091.5,207.6 1103.08,212 1112.87,215 1121.35,218 1128.84,220 1135.53,222 1179.56,232 1205.32,237 1223.6,240.4 1237.78,242 1249.36,242.4 1259.15,242 1267.63,241 1275.12,240 1281.81,235.5 1325.84,218 1351.6,203 1369.88,191 1384.06,181.5 1395.64,175 1405.43,170 1413.91,165 1421.4,161.5 1428.09,159 1472.12,139 1497.88,117 1516.16,108 1530.34,106.4 1541.92,106 1551.71,106.4 1560.19,107 1567.68,108 1574.37,109" stroke="#008000" stroke-width="3.3" stroke-dasharray="12.21 5.28"/>
<g fill="#008000"><circle cx="989.25" cy="175.6" r="6.3"/><circle cx="1033.28" cy="180.6" r="6.3"/><circle cx="1059.04" cy="195" r="6.3"/><circle cx="1077.32" cy="202.4" r="6.3"/><circle cx="1091.5" cy="207.6" r="6.3"/><circle cx="1103.08" cy="212" r="6.3"/><circle cx="1112.87" cy="215" r="6.3"/><circle cx="1121.35" cy="218" r="6.3"/><circle cx="1128.84" cy="220" r="6.3"/><circle cx="1135.53" cy="222" r="6.3"/><circle cx="1179.56" cy="232" r="6.3"/><circle cx="1205.32" cy="237" r="6.3"/><circle cx="1223.6" cy="240.4" r="6.3"/><circle cx="1237.78" cy="242" r="6.3"/><circle cx="1249.36" cy="242.4" r="6.3"/><circle cx="1259.15" cy="242" r="6.3"/><circle cx="1267.63" cy="241" r="6.3"/><circle cx="1275.12" cy="240" r="6.3"/><circle cx="1281.81" cy="235.5" r="6.3"/><circle cx="1325.84" cy="218" r="6.3"/><circle cx="1351.6" cy="203" r="6.3"/><circle cx="1369.88" cy="191" r="6.3"/><circle cx="1384.06" cy="181.5" r="6.3"/><circle cx="1395.64" cy="175" r="6.3"/><circle cx="1405.43" cy="170" r="6.3"/><circle cx="1413.91" cy="165" r="6.3"/><circle cx="1421.4" cy="161.5" r="6.3"/><circle cx="1428.09" cy="159" r="6.3"/><circle cx="1472.12" cy="139" r="6.3"/><circle cx="1497.88" cy="117" r="6.3"/><circle cx="1516.16" cy="108" r="6.3"/><circle cx="1530.34" cy="106.4" r="6.3"/><circle cx="1541.92" cy="106" r="6.3"/><circle cx="1551.71" cy="106.4" r="6.3"/><circle cx="1560.19" cy="107" r="6.3"/><circle cx="1567.68" cy="108" r="6.3"/><circle cx="1574.37" cy="109" r="6.3"/></g>
<polyline points="989.25,37.4 1033.28,41.6 1059.04,57 1077.32,63 1091.5,68 1103.08,73 1112.87,76 1121.35,78.6 1128.84,81 1135.53,83 1179.56,92.4 1205.32,98 1223.6,102.4 1237.78,104.6 1249.36,106.4 1259.15,107 1267.63,107 1275.12,106.6 1281.81,105.5 1325.84,98 1351.6,89 1369.88,80.4 1384.06,73 1395.64,66 1405.43,59.6 1413.91,54 1421.4,49 1428.09,46.4 1472.12,28 1497.88,25.6 1516.16,26.4 1530.34,27 1541.92,28 1551.71,28.4 1560.19,29.6 1567.68,30 1574.37,31" stroke="#800080" stroke-width="3.3" stroke-linecap="square"/>
<polyline points="989.25,37.4 1033.28,41.6 1059.04,57 1077.32,63 1091.5,68 1103.08,73 1112.87,76 1121.35,78.6 1128.84,81 1135.53,83 1179.56,92.4 1205.32,98 1223.6,102.4 1237.78,104.6 1249.36,106.4 1259.15,107 1267.63,107 1275.12,106.6 1281.81,105.5 1325.84,98 1351.6,89 1369.88,80.4 1384.06,73 1395.64,66 1405.43,59.6 1413.91,54 1421.4,49 1428.09,46.4 1472.12,28 1497.88,25.6 1516.16,26.4 1530.34,27 1541.92,28 1551.71,28.4 1560.19,29.6 1567.68,30 1574.37,31" stroke="#800080" stroke-width="3.3" stroke-dasharray="12.21 5.28"/>
<g fill="#800080"><circle cx="989.25" cy="37.4" r="6.3"/><circle cx="1033.28" cy="41.6" r="6.3"/><circle cx="1059.04" cy="57" r="6.3"/><circle cx="1077.32" cy="63" r="6.3"/><circle cx="1091.5" cy="68" r="6.3"/><circle cx="1103.08" cy="73" r="6.3"/><circle cx="1112.87" cy="76" r="6.3"/><circle cx="1121.35" cy="78.6" r="6.3"/><circle cx="1128.84" cy="81" r="6.3"/><circle cx="1135.53" cy="83" r="6.3"/><circle cx="1179.56" cy="92.4" r="6.3"/><circle cx="1205.32" cy="98" r="6.3"/><circle cx="1223.6" cy="102.4" r="6.3"/><circle cx="1237.78" cy="104.6" r="6.3"/><circle cx="1249.36" cy="106.4" r="6.3"/><circle cx="1259.15" cy="107" r="6.3"/><circle cx="1267.63" cy="107" r="6.3"/><circle cx="1275.12" cy="106.6" r="6.3"/><circle cx="1281.81" cy="105.5" r="6.3"/><circle cx="1325.84" cy="98" r="6.3"/><circle cx="1351.6" cy="89" r="6.3"/><circle cx="1369.88" cy="80.4" r="6.3"/><circle cx="1384.06" cy="73" r="6.3"/><circle cx="1395.64" cy="66" r="6.3"/><circle cx="1405.43" cy="59.6" r="6.3"/><circle cx="1413.91" cy="54" r="6.3"/><circle cx="1421.4" cy="49" r="6.3"/><circle cx="1428.09" cy="46.4" r="6.3"/><circle cx="1472.12" cy="28" r="6.3"/><circle cx="1497.88" cy="25.6" r="6.3"/><circle cx="1516.16" cy="26.4" r="6.3"/><circle cx="1530.34" cy="27" r="6.3"/><circle cx="1541.92" cy="28" r="6.3"/><circle cx="1551.71" cy="28.4" r="6.3"/><circle cx="1560.19" cy="29.6" r="6.3"/><circle cx="1567.68" cy="30" r="6.3"/><circle cx="1574.37" cy="31" r="6.3"/></g>
</g>
<g stroke="#000" fill="none"><line x1="956.8" y1="480.6" x2="956.8" y2="477" stroke-width="1.1"/><line x1="966.59" y1="480.6" x2="966.59" y2="477" stroke-width="1.1"/><line x1="975.07" y1="480.6" x2="975.07" y2="477" stroke-width="1.1"/><line x1="982.56" y1="480.6" x2="982.56" y2="477" stroke-width="1.1"/><line x1="989.25" y1="480.6" x2="989.25" y2="473.8" stroke-width="1.4"/><line x1="1033.28" y1="480.6" x2="1033.28" y2="477" stroke-width="1.1"/><line x1="1059.04" y1="480.6" x2="1059.04" y2="477" stroke-width="1.1"/><line x1="1077.32" y1="480.6" x2="1077.32" y2="477" stroke-width="1.1"/><line x1="1091.5" y1="480.6" x2="1091.5" y2="477" stroke-width="1.1"/><line x1="1103.08" y1="480.6" x2="1103.08" y2="477" stroke-width="1.1"/><line x1="1112.87" y1="480.6" x2="1112.87" y2="477" stroke-width="1.1"/><line x1="1121.35" y1="480.6" x2="1121.35" y2="477" stroke-width="1.1"/><line x1="1128.84" y1="480.6" x2="1128.84" y2="477" stroke-width="1.1"/><line x1="1135.53" y1="480.6" x2="1135.53" y2="473.8" stroke-width="1.4"/><line x1="1179.56" y1="480.6" x2="1179.56" y2="477" stroke-width="1.1"/><line x1="1205.32" y1="480.6" x2="1205.32" y2="477" stroke-width="1.1"/><line x1="1223.6" y1="480.6" x2="1223.6" y2="477" stroke-width="1.1"/><line x1="1237.78" y1="480.6" x2="1237.78" y2="477" stroke-width="1.1"/><line x1="1249.36" y1="480.6" x2="1249.36" y2="477" stroke-width="1.1"/><line x1="1259.15" y1="480.6" x2="1259.15" y2="477" stroke-width="1.1"/><line x1="1267.63" y1="480.6" x2="1267.63" y2="477" stroke-width="1.1"/><line x1="1275.12" y1="480.6" x2="1275.12" y2="477" stroke-width="1.1"/><line x1="1281.81" y1="480.6" x2="1281.81" y2="473.8" stroke-width="1.4"/><line x1="1325.84" y1="480.6" x2="1325.84" y2="477" stroke-width="1.1"/><line x1="1351.6" y1="480.6" x2="1351.6" y2="477" stroke-width="1.1"/><line x1="1369.88" y1="480.6" x2="1369.88" y2="477" stroke-width="1.1"/><line x1="1384.06" y1="480.6" x2="1384.06" y2="477" stroke-width="1.1"/><line x1="1395.64" y1="480.6" x2="1395.64" y2="477" stroke-width="1.1"/><line x1="1405.43" y1="480.6" x2="1405.43" y2="477" stroke-width="1.1"/><line x1="1413.91" y1="480.6" x2="1413.91" y2="477" stroke-width="1.1"/><line x1="1421.4" y1="480.6" x2="1421.4" y2="477" stroke-width="1.1"/><line x1="1428.09" y1="480.6" x2="1428.09" y2="473.8" stroke-width="1.4"/><line x1="1472.12" y1="480.6" x2="1472.12" y2="477" stroke-width="1.1"/><line x1="1497.88" y1="480.6" x2="1497.88" y2="477" stroke-width="1.1"/><line x1="1516.16" y1="480.6" x2="1516.16" y2="477" stroke-width="1.1"/><line x1="1530.34" y1="480.6" x2="1530.34" y2="477" stroke-width="1.1"/><line x1="1541.92" y1="480.6" x2="1541.92" y2="477" stroke-width="1.1"/><line x1="1551.71" y1="480.6" x2="1551.71" y2="477" stroke-width="1.1"/><line x1="1560.19" y1="480.6" x2="1560.19" y2="477" stroke-width="1.1"/><line x1="1567.68" y1="480.6" x2="1567.68" y2="477" stroke-width="1.1"/><line x1="1574.37" y1="480.6" x2="1574.37" y2="473.8" stroke-width="1.4"/><line x1="956.25" y1="465.35" x2="959.85" y2="465.35" stroke-width="1.1"/><line x1="1599.9" y1="465.35" x2="1596.3" y2="465.35" stroke-width="1.1"/><line x1="956.25" y1="453.89" x2="959.85" y2="453.89" stroke-width="1.1"/><line x1="1599.9" y1="453.89" x2="1596.3" y2="453.89" stroke-width="1.1"/><line x1="956.25" y1="445" x2="959.85" y2="445" stroke-width="1.1"/><line x1="1599.9" y1="445" x2="1596.3" y2="445" stroke-width="1.1"/><line x1="956.25" y1="437.74" x2="959.85" y2="437.74" stroke-width="1.1"/><line x1="1599.9" y1="437.74" x2="1596.3" y2="437.74" stroke-width="1.1"/><line x1="956.25" y1="431.6" x2="959.85" y2="431.6" stroke-width="1.1"/><line x1="1599.9" y1="431.6" x2="1596.3" y2="431.6" stroke-width="1.1"/><line x1="956.25" y1="426.29" x2="959.85" y2="426.29" stroke-width="1.1"/><line x1="1599.9" y1="426.29" x2="1596.3" y2="426.29" stroke-width="1.1"/><line x1="956.25" y1="421.6" x2="959.85" y2="421.6" stroke-width="1.1"/><line x1="1599.9" y1="421.6" x2="1596.3" y2="421.6" stroke-width="1.1"/><line x1="956.25" y1="417.4" x2="963.05" y2="417.4" stroke-width="1.4"/><line x1="1599.9" y1="417.4" x2="1593.1" y2="417.4" stroke-width="1.4"/><line x1="956.25" y1="389.8" x2="959.85" y2="389.8" stroke-width="1.1"/><line x1="1599.9" y1="389.8" x2="1596.3" y2="389.8" stroke-width="1.1"/><line x1="956.25" y1="373.65" x2="959.85" y2="373.65" stroke-width="1.1"/><line x1="1599.9" y1="373.65" x2="1596.3" y2="373.65" stroke-width="1.1"/><line x1="956.25" y1="362.19" x2="959.85" y2="362.19" stroke-width="1.1"/><line x1="1599.9" y1="362.19" x2="1596.3" y2="362.19" stroke-width="1.1"/><line x1="956.25" y1="353.3" x2="959.85" y2="353.3" stroke-width="1.1"/><line x1="1599.9" y1="353.3" x2="1596.3" y2="353.3" stroke-width="1.1"/><line x1="956.25" y1="346.04" x2="959.85" y2="346.04" stroke-width="1.1"/><line x1="1599.9" y1="346.04" x2="1596.3" y2="346.04" stroke-width="1.1"/><line x1="956.25" y1="339.9" x2="959.85" y2="339.9" stroke-width="1.1"/><line x1="1599.9" y1="339.9" x2="1596.3" y2="339.9" stroke-width="1.1"/><line x1="956.25" y1="334.59" x2="959.85" y2="334.59" stroke-width="1.1"/><line x1="1599.9" y1="334.59" x2="1596.3" y2="334.59" stroke-width="1.1"/><line x1="956.25" y1="329.9" x2="959.85" y2="329.9" stroke-width="1.1"/><line x1="1599.9" y1="329.9" x2="1596.3" y2="329.9" stroke-width="1.1"/><line x1="956.25" y1="325.7" x2="963.05" y2="325.7" stroke-width="1.4"/><line x1="1599.9" y1="325.7" x2="1593.1" y2="325.7" stroke-width="1.4"/><line x1="956.25" y1="298.1" x2="959.85" y2="298.1" stroke-width="1.1"/><line x1="1599.9" y1="298.1" x2="1596.3" y2="298.1" stroke-width="1.1"/><line x1="956.25" y1="281.95" x2="959.85" y2="281.95" stroke-width="1.1"/><line x1="1599.9" y1="281.95" x2="1596.3" y2="281.95" stroke-width="1.1"/><line x1="956.25" y1="270.49" x2="959.85" y2="270.49" stroke-width="1.1"/><line x1="1599.9" y1="270.49" x2="1596.3" y2="270.49" stroke-width="1.1"/><line x1="956.25" y1="261.6" x2="959.85" y2="261.6" stroke-width="1.1"/><line x1="1599.9" y1="261.6" x2="1596.3" y2="261.6" stroke-width="1.1"/><line x1="956.25" y1="254.34" x2="959.85" y2="254.34" stroke-width="1.1"/><line x1="1599.9" y1="254.34" x2="1596.3" y2="254.34" stroke-width="1.1"/><line x1="956.25" y1="248.2" x2="959.85" y2="248.2" stroke-width="1.1"/><line x1="1599.9" y1="248.2" x2="1596.3" y2="248.2" stroke-width="1.1"/><line x1="956.25" y1="242.89" x2="959.85" y2="242.89" stroke-width="1.1"/><line x1="1599.9" y1="242.89" x2="1596.3" y2="242.89" stroke-width="1.1"/><line x1="956.25" y1="238.2" x2="959.85" y2="238.2" stroke-width="1.1"/><line x1="1599.9" y1="238.2" x2="1596.3" y2="238.2" stroke-width="1.1"/><line x1="956.25" y1="234" x2="963.05" y2="234" stroke-width="1.4"/><line x1="1599.9" y1="234" x2="1593.1" y2="234" stroke-width="1.4"/><line x1="956.25" y1="206.4" x2="959.85" y2="206.4" stroke-width="1.1"/><line x1="1599.9" y1="206.4" x2="1596.3" y2="206.4" stroke-width="1.1"/><line x1="956.25" y1="190.25" x2="959.85" y2="190.25" stroke-width="1.1"/><line x1="1599.9" y1="190.25" x2="1596.3" y2="190.25" stroke-width="1.1"/><line x1="956.25" y1="178.79" x2="959.85" y2="178.79" stroke-width="1.1"/><line x1="1599.9" y1="178.79" x2="1596.3" y2="178.79" stroke-width="1.1"/><line x1="956.25" y1="169.9" x2="959.85" y2="169.9" stroke-width="1.1"/><line x1="1599.9" y1="169.9" x2="1596.3" y2="169.9" stroke-width="1.1"/><line x1="956.25" y1="162.64" x2="959.85" y2="162.64" stroke-width="1.1"/><line x1="1599.9" y1="162.64" x2="1596.3" y2="162.64" stroke-width="1.1"/><line x1="956.25" y1="156.5" x2="959.85" y2="156.5" stroke-width="1.1"/><line x1="1599.9" y1="156.5" x2="1596.3" y2="156.5" stroke-width="1.1"/><line x1="956.25" y1="151.19" x2="959.85" y2="151.19" stroke-width="1.1"/><line x1="1599.9" y1="151.19" x2="1596.3" y2="151.19" stroke-width="1.1"/><line x1="956.25" y1="146.5" x2="959.85" y2="146.5" stroke-width="1.1"/><line x1="1599.9" y1="146.5" x2="1596.3" y2="146.5" stroke-width="1.1"/><line x1="956.25" y1="142.3" x2="963.05" y2="142.3" stroke-width="1.4"/><line x1="1599.9" y1="142.3" x2="1593.1" y2="142.3" stroke-width="1.4"/><line x1="956.25" y1="114.7" x2="959.85" y2="114.7" stroke-width="1.1"/><line x1="1599.9" y1="114.7" x2="1596.3" y2="114.7" stroke-width="1.1"/><line x1="956.25" y1="98.55" x2="959.85" y2="98.55" stroke-width="1.1"/><line x1="1599.9" y1="98.55" x2="1596.3" y2="98.55" stroke-width="1.1"/><line x1="956.25" y1="87.09" x2="959.85" y2="87.09" stroke-width="1.1"/><line x1="1599.9" y1="87.09" x2="1596.3" y2="87.09" stroke-width="1.1"/><line x1="956.25" y1="78.2" x2="959.85" y2="78.2" stroke-width="1.1"/><line x1="1599.9" y1="78.2" x2="1596.3" y2="78.2" stroke-width="1.1"/><line x1="956.25" y1="70.94" x2="959.85" y2="70.94" stroke-width="1.1"/><line x1="1599.9" y1="70.94" x2="1596.3" y2="70.94" stroke-width="1.1"/><line x1="956.25" y1="64.8" x2="959.85" y2="64.8" stroke-width="1.1"/><line x1="1599.9" y1="64.8" x2="1596.3" y2="64.8" stroke-width="1.1"/><line x1="956.25" y1="59.49" x2="959.85" y2="59.49" stroke-width="1.1"/><line x1="1599.9" y1="59.49" x2="1596.3" y2="59.49" stroke-width="1.1"/><line x1="956.25" y1="54.8" x2="959.85" y2="54.8" stroke-width="1.1"/><line x1="1599.9" y1="54.8" x2="1596.3" y2="54.8" stroke-width="1.1"/><line x1="956.25" y1="50.6" x2="963.05" y2="50.6" stroke-width="1.4"/><line x1="1599.9" y1="50.6" x2="1593.1" y2="50.6" stroke-width="1.4"/><line x1="956.25" y1="23" x2="959.85" y2="23" stroke-width="1.1"/><line x1="1599.9" y1="23" x2="1596.3" y2="23" stroke-width="1.1"/><line x1="956.25" y1="6.85" x2="959.85" y2="6.85" stroke-width="1.1"/><line x1="1599.9" y1="6.85" x2="1596.3" y2="6.85" stroke-width="1.1"/></g>
<path d="M956.25,0 V480.6 H1599.9" fill="none" stroke="#000" stroke-width="1.7" stroke-linejoin="miter"/>
<rect x="1599.1" y="0" width="1.9" height="481.35" fill="#404040"/>
<rect x="1599.1" y="0" width="0.7" height="481.35" fill="#111"/>
<rect x="955.5" y="0" width="645.15" height="1.9" fill="#404040"/>
<g font-family="'DejaVu Sans', 'Liberation Sans', sans-serif" fill="#000">
<text x="968.35" y="504.8" font-size="23.55">10</text>
<text x="998.32" y="495.9" font-size="16.48">0</text>
<text x="1114.63" y="504.8" font-size="23.55">10</text>
<text x="1144.6" y="495.9" font-size="16.48">1</text>
<text x="1260.91" y="504.8" font-size="23.55">10</text>
<text x="1290.88" y="495.9" font-size="16.48">2</text>
<text x="1407.19" y="504.8" font-size="23.55">10</text>
<text x="1437.16" y="495.9" font-size="16.48">3</text>
<text x="1553.47" y="504.8" font-size="23.55">10</text>
<text x="1583.44" y="495.9" font-size="16.48">4</text>
<text x="908.05" y="59.35" font-size="23.55">10</text>
<text x="938.01" y="50.45" font-size="16.48">0</text>
<text x="894.23" y="151.05" font-size="23.55">10</text>
<text x="924.2" y="142.15" font-size="16.48">−1</text>
<text x="894.23" y="242.75" font-size="23.55">10</text>
<text x="924.2" y="233.85" font-size="16.48">−2</text>
<text x="894.23" y="334.45" font-size="23.55">10</text>
<text x="924.2" y="325.55" font-size="16.48">−3</text>
<text x="894.23" y="426.15" font-size="23.55">10</text>
<text x="924.2" y="417.25" font-size="16.48">−4</text>
</g>
<g font-family="'DejaVu Sans', 'Liberation Sans', sans-serif" fill="#000">
<text x="1193.23" y="538.2" font-size="23.55">Energy (cm</text>
<text x="1328.24" y="529.3" font-size="16.48">−1</text>
<text x="1352.54" y="538.2" font-size="23.55">)</text>
<g transform="translate(880.3,241.18) rotate(-90)">
<text x="-106" y="0" font-size="23.55">Cross Section (Å</text>
<text x="86.32" y="-8.9" font-size="16.48">2</text>
<text x="96.81" y="0" font-size="23.55">)</text>
</g>
</g>
<rect x="1435.8" y="250.1" width="152.3" height="218.4" rx="4" ry="4" fill="#fff" stroke="#cccccc" stroke-width="1.5"/>
<g font-family="'DejaVu Sans', 'Liberation Sans', sans-serif" fill="#000">
<line x1="1443.3" y1="274.3" x2="1493.6" y2="274.3" stroke="#000000" stroke-width="3.3"/>
<text x="1510.7" y="280.89" font-size="23.55">j</text>
<text x="1517.24" y="287.25" font-size="16.48">1</text>
<text x="0" y="0" font-size="16.48" transform="translate(1517.71,281.91) scale(1,1.9)">′</text>
<text x="1527.73" y="280.89" font-size="23.55" xml:space="preserve"> = 0</text>
<line x1="1443.3" y1="316.7" x2="1493.6" y2="316.7" stroke="#0000ff" stroke-width="3.3"/>
<text x="1510.7" y="323.29" font-size="23.55">j</text>
<text x="1517.24" y="329.65" font-size="16.48">1</text>
<text x="0" y="0" font-size="16.48" transform="translate(1517.71,324.31) scale(1,1.9)">′</text>
<text x="1527.73" y="323.29" font-size="23.55" xml:space="preserve"> = 2</text>
<line x1="1443.3" y1="359.1" x2="1493.6" y2="359.1" stroke="#ff0000" stroke-width="3.3"/>
<text x="1510.7" y="365.69" font-size="23.55">j</text>
<text x="1517.24" y="372.05" font-size="16.48">1</text>
<text x="0" y="0" font-size="16.48" transform="translate(1517.71,366.71) scale(1,1.9)">′</text>
<text x="1527.73" y="365.69" font-size="23.55" xml:space="preserve"> = 4</text>
<line x1="1443.3" y1="401.5" x2="1493.6" y2="401.5" stroke="#008000" stroke-width="3.3"/>
<text x="1510.7" y="408.09" font-size="23.55">j</text>
<text x="1517.24" y="414.45" font-size="16.48">1</text>
<text x="0" y="0" font-size="16.48" transform="translate(1517.71,409.11) scale(1,1.9)">′</text>
<text x="1527.73" y="408.09" font-size="23.55" xml:space="preserve"> = 6</text>
<line x1="1443.3" y1="443.9" x2="1493.6" y2="443.9" stroke="#800080" stroke-width="3.3"/>
<text x="1510.7" y="450.49" font-size="23.55">j</text>
<text x="1517.24" y="456.85" font-size="16.48">1</text>
<text x="0" y="0" font-size="16.48" transform="translate(1517.71,451.51) scale(1,1.9)">′</text>
<text x="1527.73" y="450.49" font-size="23.55" xml:space="preserve"> = 8</text>
</g>
<text x="1253.25" y="600" font-family="'Liberation Serif', 'DejaVu Serif', serif" font-size="40" text-anchor="middle" fill="#000">(<tspan font-size="37.5">b</tspan>)</text>
<g clip-path="url(#clipC)" fill="none" stroke-linejoin="round">
<polyline points="559.49,1078 603.55,1088.7 629.32,1086.2 647.6,1081 661.78,1077.5 673.37,1077.5 683.17,1078.8 691.66,1082.3 699.14,1086.3 705.84,1085 749.9,1101 775.67,1129 793.95,1137.4 808.13,1146.3 819.72,1143.5 829.52,1141.5 838.01,1139 845.49,1137 852.19,1135.2 896.25,1116.5 922.02,1100 940.3,1085.6 954.48,1074 966.07,1063.5 975.87,1055.2 984.36,1046.5 991.84,1037.9 998.54,1029.5 1042.6,985 1068.37,959.4 1086.65,936 1100.83,918 1112.42,905 1122.22,892.3 1130.71,884 1138.19,878.7 1144.89,876.9" stroke="#000000" stroke-width="3.3" stroke-linecap="square"/>
<polyline points="559.49,1103.7 603.55,1111.2 629.32,1108 647.6,1105.5 661.78,1105.5 673.37,1106.2 683.17,1108 691.66,1112 699.14,1113 705.84,1114.5 749.9,1135.5 775.67,1150.3 793.95,1174.3 808.13,1189.9 819.72,1188 829.52,1184.7 838.01,1181.7 845.49,1178.7 852.19,1175.7 896.25,1151.7 922.02,1133.7 940.3,1118.7 954.48,1106 966.07,1095.6 975.87,1086 984.36,1078.5 991.84,1071 998.54,1064 1042.6,1027 1068.37,1005.8 1086.65,990.7 1100.83,979 1112.42,939.2 1122.22,913.5 1130.71,899.3 1138.19,888.7 1144.89,889" stroke="#000000" stroke-width="3.3" stroke-dasharray="12.21 5.28"/>
<g fill="#000000"><circle cx="559.49" cy="1103.7" r="6.3"/><circle cx="603.55" cy="1111.2" r="6.3"/><circle cx="629.32" cy="1108" r="6.3"/><circle cx="647.6" cy="1105.5" r="6.3"/><circle cx="661.78" cy="1105.5" r="6.3"/><circle cx="673.37" cy="1106.2" r="6.3"/><circle cx="683.17" cy="1108" r="6.3"/><circle cx="691.66" cy="1112" r="6.3"/><circle cx="699.14" cy="1113" r="6.3"/><circle cx="705.84" cy="1114.5" r="6.3"/><circle cx="749.9" cy="1135.5" r="6.3"/><circle cx="775.67" cy="1150.3" r="6.3"/><circle cx="793.95" cy="1174.3" r="6.3"/><circle cx="808.13" cy="1189.9" r="6.3"/><circle cx="819.72" cy="1188" r="6.3"/><circle cx="829.52" cy="1184.7" r="6.3"/><circle cx="838.01" cy="1181.7" r="6.3"/><circle cx="845.49" cy="1178.7" r="6.3"/><circle cx="852.19" cy="1175.7" r="6.3"/><circle cx="896.25" cy="1151.7" r="6.3"/><circle cx="922.02" cy="1133.7" r="6.3"/><circle cx="940.3" cy="1118.7" r="6.3"/><circle cx="954.48" cy="1106" r="6.3"/><circle cx="966.07" cy="1095.6" r="6.3"/><circle cx="975.87" cy="1086" r="6.3"/><circle cx="984.36" cy="1078.5" r="6.3"/><circle cx="991.84" cy="1071" r="6.3"/><circle cx="998.54" cy="1064" r="6.3"/><circle cx="1042.6" cy="1027" r="6.3"/><circle cx="1068.37" cy="1005.8" r="6.3"/><circle cx="1086.65" cy="990.7" r="6.3"/><circle cx="1100.83" cy="979" r="6.3"/><circle cx="1112.42" cy="939.2" r="6.3"/><circle cx="1122.22" cy="913.5" r="6.3"/><circle cx="1130.71" cy="899.3" r="6.3"/><circle cx="1138.19" cy="888.7" r="6.3"/><circle cx="1144.89" cy="889" r="6.3"/></g>
<polyline points="559.49,1022.7 603.55,1033.2 629.32,1031.7 647.6,1026.4 661.78,1023.4 673.37,1023.7 683.17,1025.7 691.66,1030.9 699.14,1034.7 705.84,1033.2 749.9,1052 775.67,1076.5 793.95,1087.8 808.13,1096.2 819.72,1093.5 829.52,1091 838.01,1088.7 845.49,1087 852.19,1085.7 896.25,1068.5 922.02,1051.5 940.3,1039.5 954.48,1026.5 966.07,1016 975.87,1007 984.36,999.6 991.84,992.5 998.54,986.2 1042.6,943 1068.37,914 1086.65,889 1100.83,867.5 1112.42,855.9 1122.22,849.9 1130.71,846 1138.19,843.5 1144.89,841.9" stroke="#0000ff" stroke-width="3.3" stroke-linecap="square"/>
<polyline points="559.49,1044.3 603.55,1053.1 629.32,1051.2 647.6,1048.9 661.78,1049.2 673.37,1050.7 683.17,1053.4 691.66,1056.4 699.14,1057.9 705.84,1059.4 749.9,1080.8 775.67,1094.2 793.95,1121.8 808.13,1140.2 819.72,1138.5 829.52,1135.2 838.01,1132.2 845.49,1130 852.19,1127.7 896.25,1102.2 922.02,1082.7 940.3,1067.4 954.48,1055 966.07,1045.3 975.87,1035.5 984.36,1028.4 991.84,1021.7 998.54,1015.7 1042.6,988 1068.37,957 1086.65,921.5 1100.83,897.5 1112.42,882.3 1122.22,871.3 1130.71,862.5 1138.19,856 1144.89,848" stroke="#0000ff" stroke-width="3.3" stroke-dasharray="12.21 5.28"/>
<g fill="#0000ff"><circle cx="559.49" cy="1044.3" r="6.3"/><circle cx="603.55" cy="1053.1" r="6.3"/><circle cx="629.32" cy="1051.2" r="6.3"/><circle cx="647.6" cy="1048.9" r="6.3"/><circle cx="661.78" cy="1049.2" r="6.3"/><circle cx="673.37" cy="1050.7" r="6.3"/><circle cx="683.17" cy="1053.4" r="6.3"/><circle cx="691.66" cy="1056.4" r="6.3"/><circle cx="699.14" cy="1057.9" r="6.3"/><circle cx="705.84" cy="1059.4" r="6.3"/><circle cx="749.9" cy="1080.8" r="6.3"/><circle cx="775.67" cy="1094.2" r="6.3"/><circle cx="793.95" cy="1121.8" r="6.3"/><circle cx="808.13" cy="1140.2" r="6.3"/><circle cx="819.72" cy="1138.5" r="6.3"/><circle cx="829.52" cy="1135.2" r="6.3"/><circle cx="838.01" cy="1132.2" r="6.3"/><circle cx="845.49" cy="1130" r="6.3"/><circle cx="852.19" cy="1127.7" r="6.3"/><circle cx="896.25" cy="1102.2" r="6.3"/><circle cx="922.02" cy="1082.7" r="6.3"/><circle cx="940.3" cy="1067.4" r="6.3"/><circle cx="954.48" cy="1055" r="6.3"/><circle cx="966.07" cy="1045.3" r="6.3"/><circle cx="975.87" cy="1035.5" r="6.3"/><circle cx="984.36" cy="1028.4" r="6.3"/><circle cx="991.84" cy="1021.7" r="6.3"/><circle cx="998.54" cy="1015.7" r="6.3"/><circle cx="1042.6" cy="988" r="6.3"/><circle cx="1068.37" cy="957" r="6.3"/><circle cx="1086.65" cy="921.5" r="6.3"/><circle cx="1100.83" cy="897.5" r="6.3"/><circle cx="1112.42" cy="882.3" r="6.3"/><circle cx="1122.22" cy="871.3" r="6.3"/><circle cx="1130.71" cy="862.5" r="6.3"/><circle cx="1138.19" cy="856" r="6.3"/><circle cx="1144.89" cy="848" r="6.3"/></g>
<polyline points="559.49,978.8 603.55,993.2 629.32,993.2 647.6,989.7 661.78,989 673.37,990.5 683.17,992 691.66,996.5 699.14,1001 705.84,999.5 749.9,1019 775.67,1040 793.95,1053 808.13,1062.6 819.72,1062 829.52,1060.5 838.01,1058.5 845.49,1057 852.19,1055.8 896.25,1040.5 922.02,1022.9 940.3,1010 954.48,1003 966.07,992 975.87,983.5 984.36,976 991.84,969 998.54,962 1042.6,912.5 1068.37,882.5 1086.65,861.9 1100.83,839.9 1112.42,833.9 1122.22,829 1130.71,826 1138.19,823.5 1144.89,821.9" stroke="#ff0000" stroke-width="3.3" stroke-linecap="square"/>
<polyline points="559.49,995 603.55,1011.7 629.32,1011.7 647.6,1011.1 661.78,1013.7 673.37,1016 683.17,1018.6 691.66,1021.2 699.14,1023.4 705.84,1025.7 749.9,1049.5 775.67,1057.7 793.95,1093 808.13,1111.5 819.72,1112 829.52,1110.5 838.01,1108.2 845.49,1106 852.19,1103.7 896.25,1080 922.02,1064.4 940.3,1051.5 954.48,1040.6 966.07,1030.1 975.87,1021.1 984.36,1013.1 991.84,1007.4 998.54,1001.4 1042.6,966.7 1068.37,934.3 1086.65,892 1100.83,862.2 1112.42,843.9 1122.22,833.9 1130.71,829.9 1138.19,827.9 1144.89,824.9" stroke="#ff0000" stroke-width="3.3" stroke-dasharray="12.21 5.28"/>
<g fill="#ff0000"><circle cx="559.49" cy="995" r="6.3"/><circle cx="603.55" cy="1011.7" r="6.3"/><circle cx="629.32" cy="1011.7" r="6.3"/><circle cx="647.6" cy="1011.1" r="6.3"/><circle cx="661.78" cy="1013.7" r="6.3"/><circle cx="673.37" cy="1016" r="6.3"/><circle cx="683.17" cy="1018.6" r="6.3"/><circle cx="691.66" cy="1021.2" r="6.3"/><circle cx="699.14" cy="1023.4" r="6.3"/><circle cx="705.84" cy="1025.7" r="6.3"/><circle cx="749.9" cy="1049.5" r="6.3"/><circle cx="775.67" cy="1057.7" r="6.3"/><circle cx="793.95" cy="1093" r="6.3"/><circle cx="808.13" cy="1111.5" r="6.3"/><circle cx="819.72" cy="1112" r="6.3"/><circle cx="829.52" cy="1110.5" r="6.3"/><circle cx="838.01" cy="1108.2" r="6.3"/><circle cx="845.49" cy="1106" r="6.3"/><circle cx="852.19" cy="1103.7" r="6.3"/><circle cx="896.25" cy="1080" r="6.3"/><circle cx="922.02" cy="1064.4" r="6.3"/><circle cx="940.3" cy="1051.5" r="6.3"/><circle cx="954.48" cy="1040.6" r="6.3"/><circle cx="966.07" cy="1030.1" r="6.3"/><circle cx="975.87" cy="1021.1" r="6.3"/><circle cx="984.36" cy="1013.1" r="6.3"/><circle cx="991.84" cy="1007.4" r="6.3"/><circle cx="998.54" cy="1001.4" r="6.3"/><circle cx="1042.6" cy="966.7" r="6.3"/><circle cx="1068.37" cy="934.3" r="6.3"/><circle cx="1086.65" cy="892" r="6.3"/><circle cx="1100.83" cy="862.2" r="6.3"/><circle cx="1112.42" cy="843.9" r="6.3"/><circle cx="1122.22" cy="833.9" r="6.3"/><circle cx="1130.71" cy="829.9" r="6.3"/><circle cx="1138.19" cy="827.9" r="6.3"/><circle cx="1144.89" cy="824.9" r="6.3"/></g>
<polyline points="559.49,935 603.55,951.5 629.32,951.5 647.6,949.2 661.78,950.7 673.37,953 683.17,955.2 691.66,959.7 699.14,962.7 705.84,962.7 749.9,985 775.67,1000 793.95,1022.9 808.13,1031.9 819.72,1031.6 829.52,1031 838.01,1030.4 845.49,1029.7 852.19,1028.9 896.25,1016.9 922.02,1004.2 940.3,992.9 954.48,983.2 966.07,975.7 975.87,966 984.36,956 991.84,947 998.54,938.5 1042.6,876 1068.37,837.9 1086.65,826 1100.83,820 1112.42,816 1122.22,813 1130.71,811 1138.19,809.5 1144.89,808" stroke="#008000" stroke-width="3.3" stroke-linecap="square"/>
<polyline points="559.49,944.7 603.55,965 629.32,965.3 647.6,965 661.78,968.3 673.37,971 683.17,973.7 691.66,975.8 699.14,978.5 705.84,981.5 749.9,1005 775.67,1009.7 793.95,1048.7 808.13,1070 819.72,1075.2 829.52,1077.2 838.01,1077.8 845.49,1077.6 852.19,1076.8 896.25,1061.8 922.02,1044 940.3,1029.4 954.48,1016.1 966.07,1005.2 975.87,996 984.36,987.6 991.84,979.2 998.54,970.7 1042.6,902.2 1068.37,862.9 1086.65,843.5 1100.83,833.9 1112.42,827.9 1122.22,822.9 1130.71,819.9 1138.19,817.5 1144.89,814.9" stroke="#008000" stroke-width="3.3" stroke-dasharray="12.21 5.28"/>
<g fill="#008000"><circle cx="559.49" cy="944.7" r="6.3"/><circle cx="603.55" cy="965" r="6.3"/><circle cx="629.32" cy="965.3" r="6.3"/><circle cx="647.6" cy="965" r="6.3"/><circle cx="661.78" cy="968.3" r="6.3"/><circle cx="673.37" cy="971" r="6.3"/><circle cx="683.17" cy="973.7" r="6.3"/><circle cx="691.66" cy="975.8" r="6.3"/><circle cx="699.14" cy="978.5" r="6.3"/><circle cx="705.84" cy="981.5" r="6.3"/><circle cx="749.9" cy="1005" r="6.3"/><circle cx="775.67" cy="1009.7" r="6.3"/><circle cx="793.95" cy="1048.7" r="6.3"/><circle cx="808.13" cy="1070" r="6.3"/><circle cx="819.72" cy="1075.2" r="6.3"/><circle cx="829.52" cy="1077.2" r="6.3"/><circle cx="838.01" cy="1077.8" r="6.3"/><circle cx="845.49" cy="1077.6" r="6.3"/><circle cx="852.19" cy="1076.8" r="6.3"/><circle cx="896.25" cy="1061.8" r="6.3"/><circle cx="922.02" cy="1044" r="6.3"/><circle cx="940.3" cy="1029.4" r="6.3"/><circle cx="954.48" cy="1016.1" r="6.3"/><circle cx="966.07" cy="1005.2" r="6.3"/><circle cx="975.87" cy="996" r="6.3"/><circle cx="984.36" cy="987.6" r="6.3"/><circle cx="991.84" cy="979.2" r="6.3"/><circle cx="998.54" cy="970.7" r="6.3"/><circle cx="1042.6" cy="902.2" r="6.3"/><circle cx="1068.37" cy="862.9" r="6.3"/><circle cx="1086.65" cy="843.5" r="6.3"/><circle cx="1100.83" cy="833.9" r="6.3"/><circle cx="1112.42" cy="827.9" r="6.3"/><circle cx="1122.22" cy="822.9" r="6.3"/><circle cx="1130.71" cy="819.9" r="6.3"/><circle cx="1138.19" cy="817.5" r="6.3"/><circle cx="1144.89" cy="814.9" r="6.3"/></g>
<polyline points="559.49,890.4 603.55,905.4 629.32,906.9 647.6,905.1 661.78,907.7 673.37,910.6 683.17,913.6 691.66,918.1 699.14,920.4 705.84,921.1 749.9,945 775.67,954.6 793.95,978 808.13,984.7 819.72,985.4 829.52,985.2 838.01,984.7 845.49,984 852.19,983.2 896.25,973.2 922.02,960.7 940.3,948.7 954.48,938.2 966.07,930.7 975.87,924.7 984.36,919.5 991.84,915.5 998.54,912.2 1042.6,862.9 1068.37,827.9 1086.65,805 1100.83,796 1112.42,793 1122.22,792.5 1130.71,792.2 1138.19,792 1144.89,792" stroke="#800080" stroke-width="3.3" stroke-linecap="square"/>
<polyline points="559.49,897.2 603.55,917.7 629.32,919.6 647.6,920.1 661.78,924.1 673.37,927.1 683.17,930.1 691.66,932.4 699.14,934.6 705.84,936.9 749.9,961.8 775.67,963.6 793.95,999.7 808.13,1012.4 819.72,1016.9 829.52,1019.2 838.01,1019.9 845.49,1020.7 852.19,1020.7 896.25,1011.7 922.02,999.7 940.3,989 954.48,979.5 966.07,971.3 975.87,963.3 984.36,957.2 991.84,950.5 998.54,945.2 1042.6,893.5 1068.37,846.3 1086.65,818.3 1100.83,803.9 1112.42,798 1122.22,795.6 1130.71,794.4 1138.19,794 1144.89,793.6" stroke="#800080" stroke-width="3.3" stroke-dasharray="12.21 5.28"/>
<g fill="#800080"><circle cx="559.49" cy="897.2" r="6.3"/><circle cx="603.55" cy="917.7" r="6.3"/><circle cx="629.32" cy="919.6" r="6.3"/><circle cx="647.6" cy="920.1" r="6.3"/><circle cx="661.78" cy="924.1" r="6.3"/><circle cx="673.37" cy="927.1" r="6.3"/><circle cx="683.17" cy="930.1" r="6.3"/><circle cx="691.66" cy="932.4" r="6.3"/><circle cx="699.14" cy="934.6" r="6.3"/><circle cx="705.84" cy="936.9" r="6.3"/><circle cx="749.9" cy="961.8" r="6.3"/><circle cx="775.67" cy="963.6" r="6.3"/><circle cx="793.95" cy="999.7" r="6.3"/><circle cx="808.13" cy="1012.4" r="6.3"/><circle cx="819.72" cy="1016.9" r="6.3"/><circle cx="829.52" cy="1019.2" r="6.3"/><circle cx="838.01" cy="1019.9" r="6.3"/><circle cx="845.49" cy="1020.7" r="6.3"/><circle cx="852.19" cy="1020.7" r="6.3"/><circle cx="896.25" cy="1011.7" r="6.3"/><circle cx="922.02" cy="999.7" r="6.3"/><circle cx="940.3" cy="989" r="6.3"/><circle cx="954.48" cy="979.5" r="6.3"/><circle cx="966.07" cy="971.3" r="6.3"/><circle cx="975.87" cy="963.3" r="6.3"/><circle cx="984.36" cy="957.2" r="6.3"/><circle cx="991.84" cy="950.5" r="6.3"/><circle cx="998.54" cy="945.2" r="6.3"/><circle cx="1042.6" cy="893.5" r="6.3"/><circle cx="1068.37" cy="846.3" r="6.3"/><circle cx="1086.65" cy="818.3" r="6.3"/><circle cx="1100.83" cy="803.9" r="6.3"/><circle cx="1112.42" cy="798" r="6.3"/><circle cx="1122.22" cy="795.6" r="6.3"/><circle cx="1130.71" cy="794.4" r="6.3"/><circle cx="1138.19" cy="794" r="6.3"/><circle cx="1144.89" cy="793.6" r="6.3"/></g>
<polyline points="559.49,845.4 603.55,859.7 629.32,860.7 647.6,859.2 661.78,862 673.37,865 683.17,868 691.66,871.7 699.14,874 705.84,875.4 749.9,891 775.67,901 793.95,934.5 808.13,945.7 819.72,949.5 829.52,951 838.01,952.5 845.49,953 852.19,953.7 896.25,945.7 922.02,933.3 940.3,918 954.48,905 966.07,893 975.87,883 984.36,874 991.84,866 998.54,854 1042.6,806 1068.37,785 1086.65,782 1100.83,780.5 1112.42,779 1122.22,778.5 1130.71,778 1138.19,777 1144.89,776.6" stroke="#00ffff" stroke-width="3.3" stroke-linecap="square"/>
<polyline points="559.49,847 603.55,868.2 629.32,870.2 647.6,869.7 661.78,874.7 673.37,877.7 683.17,880 691.66,882.2 699.14,884.4 705.84,886.7 749.9,904 775.67,907 793.95,936.8 808.13,954 819.72,960.7 829.52,963.7 838.01,966 845.49,967.2 852.19,967.5 896.25,951.7 922.02,933 940.3,916.2 954.48,903 966.07,891.4 975.87,881.7 984.36,872.9 991.84,865.5 998.54,857.9 1042.6,812 1068.37,794.4 1086.65,788 1100.83,785.6 1112.42,783.6 1122.22,782.4 1130.71,781.6 1138.19,781 1144.89,780.6" stroke="#00ffff" stroke-width="3.3" stroke-dasharray="12.21 5.28"/>
<g fill="#00ffff"><circle cx="559.49" cy="847" r="6.3"/><circle cx="603.55" cy="868.2" r="6.3"/><circle cx="629.32" cy="870.2" r="6.3"/><circle cx="647.6" cy="869.7" r="6.3"/><circle cx="661.78" cy="874.7" r="6.3"/><circle cx="673.37" cy="877.7" r="6.3"/><circle cx="683.17" cy="880" r="6.3"/><circle cx="691.66" cy="882.2" r="6.3"/><circle cx="699.14" cy="884.4" r="6.3"/><circle cx="705.84" cy="886.7" r="6.3"/><circle cx="749.9" cy="904" r="6.3"/><circle cx="775.67" cy="907" r="6.3"/><circle cx="793.95" cy="936.8" r="6.3"/><circle cx="808.13" cy="954" r="6.3"/><circle cx="819.72" cy="960.7" r="6.3"/><circle cx="829.52" cy="963.7" r="6.3"/><circle cx="838.01" cy="966" r="6.3"/><circle cx="845.49" cy="967.2" r="6.3"/><circle cx="852.19" cy="967.5" r="6.3"/><circle cx="896.25" cy="951.7" r="6.3"/><circle cx="922.02" cy="933" r="6.3"/><circle cx="940.3" cy="916.2" r="6.3"/><circle cx="954.48" cy="903" r="6.3"/><circle cx="966.07" cy="891.4" r="6.3"/><circle cx="975.87" cy="881.7" r="6.3"/><circle cx="984.36" cy="872.9" r="6.3"/><circle cx="991.84" cy="865.5" r="6.3"/><circle cx="998.54" cy="857.9" r="6.3"/><circle cx="1042.6" cy="812" r="6.3"/><circle cx="1068.37" cy="794.4" r="6.3"/><circle cx="1086.65" cy="788" r="6.3"/><circle cx="1100.83" cy="785.6" r="6.3"/><circle cx="1112.42" cy="783.6" r="6.3"/><circle cx="1122.22" cy="782.4" r="6.3"/><circle cx="1130.71" cy="781.6" r="6.3"/><circle cx="1138.19" cy="781" r="6.3"/><circle cx="1144.89" cy="780.6" r="6.3"/></g>
<polyline points="559.49,788.2 603.55,801.2 629.32,803.5 647.6,802.3 661.78,805 673.37,807.7 683.17,811 691.66,814.7 699.14,816.2 705.84,817.7 749.9,835 775.67,843 793.95,870.2 808.13,882.2 819.72,886.7 829.52,889.5 838.01,891.9 845.49,893 852.19,894.2 896.25,890.4 922.02,880.7 940.3,871 954.48,862 966.07,853 975.87,845.4 984.36,840 991.84,836 998.54,832 1042.6,794.4 1068.37,770 1086.65,764 1100.83,760 1112.42,759 1122.22,758.5 1130.71,758 1138.19,758 1144.89,758" stroke="#000000" stroke-width="3.3" stroke-linecap="square"/>
<polyline points="559.49,787 603.55,805.7 629.32,808.7 647.6,808.7 661.78,813.2 673.37,816.7 683.17,819.2 691.66,821.2 699.14,823 705.84,824.5 749.9,841 775.67,844.7 793.95,872.4 808.13,885.6 819.72,891.2 829.52,893.9 838.01,895.7 845.49,896.4 852.19,897.6 896.25,890.4 922.02,878.2 940.3,867.4 954.48,858.6 966.07,851.5 975.87,845.5 984.36,841 991.84,835.9 998.54,833 1042.6,799.6 1068.37,776.6 1086.65,767 1100.83,763 1112.42,761.6 1122.22,761 1130.71,761 1138.19,761 1144.89,761.6" stroke="#000000" stroke-width="3.3" stroke-dasharray="12.21 5.28"/>
<g fill="#000000"><circle cx="559.49" cy="787" r="6.3"/><circle cx="603.55" cy="805.7" r="6.3"/><circle cx="629.32" cy="808.7" r="6.3"/><circle cx="647.6" cy="808.7" r="6.3"/><circle cx="661.78" cy="813.2" r="6.3"/><circle cx="673.37" cy="816.7" r="6.3"/><circle cx="683.17" cy="819.2" r="6.3"/><circle cx="691.66" cy="821.2" r="6.3"/><circle cx="699.14" cy="823" r="6.3"/><circle cx="705.84" cy="824.5" r="6.3"/><circle cx="749.9" cy="841" r="6.3"/><circle cx="775.67" cy="844.7" r="6.3"/><circle cx="793.95" cy="872.4" r="6.3"/><circle cx="808.13" cy="885.6" r="6.3"/><circle cx="819.72" cy="891.2" r="6.3"/><circle cx="829.52" cy="893.9" r="6.3"/><circle cx="838.01" cy="895.7" r="6.3"/><circle cx="845.49" cy="896.4" r="6.3"/><circle cx="852.19" cy="897.6" r="6.3"/><circle cx="896.25" cy="890.4" r="6.3"/><circle cx="922.02" cy="878.2" r="6.3"/><circle cx="940.3" cy="867.4" r="6.3"/><circle cx="954.48" cy="858.6" r="6.3"/><circle cx="966.07" cy="851.5" r="6.3"/><circle cx="975.87" cy="845.5" r="6.3"/><circle cx="984.36" cy="841" r="6.3"/><circle cx="991.84" cy="835.9" r="6.3"/><circle cx="998.54" cy="833" r="6.3"/><circle cx="1042.6" cy="799.6" r="6.3"/><circle cx="1068.37" cy="776.6" r="6.3"/><circle cx="1086.65" cy="767" r="6.3"/><circle cx="1100.83" cy="763" r="6.3"/><circle cx="1112.42" cy="761.6" r="6.3"/><circle cx="1122.22" cy="761" r="6.3"/><circle cx="1130.71" cy="761" r="6.3"/><circle cx="1138.19" cy="761" r="6.3"/><circle cx="1144.89" cy="761.6" r="6.3"/></g>
</g>
<g stroke="#000" fill="none"><line x1="536.82" y1="1213.5" x2="536.82" y2="1209.9" stroke-width="1.1"/><line x1="545.31" y1="1213.5" x2="545.31" y2="1209.9" stroke-width="1.1"/><line x1="552.79" y1="1213.5" x2="552.79" y2="1209.9" stroke-width="1.1"/><line x1="559.49" y1="1213.5" x2="559.49" y2="1206.7" stroke-width="1.4"/><line x1="603.55" y1="1213.5" x2="603.55" y2="1209.9" stroke-width="1.1"/><line x1="629.32" y1="1213.5" x2="629.32" y2="1209.9" stroke-width="1.1"/><line x1="647.6" y1="1213.5" x2="647.6" y2="1209.9" stroke-width="1.1"/><line x1="661.78" y1="1213.5" x2="661.78" y2="1209.9" stroke-width="1.1"/><line x1="673.37" y1="1213.5" x2="673.37" y2="1209.9" stroke-width="1.1"/><line x1="683.17" y1="1213.5" x2="683.17" y2="1209.9" stroke-width="1.1"/><line x1="691.66" y1="1213.5" x2="691.66" y2="1209.9" stroke-width="1.1"/><line x1="699.14" y1="1213.5" x2="699.14" y2="1209.9" stroke-width="1.1"/><line x1="705.84" y1="1213.5" x2="705.84" y2="1206.7" stroke-width="1.4"/><line x1="749.9" y1="1213.5" x2="749.9" y2="1209.9" stroke-width="1.1"/><line x1="775.67" y1="1213.5" x2="775.67" y2="1209.9" stroke-width="1.1"/><line x1="793.95" y1="1213.5" x2="793.95" y2="1209.9" stroke-width="1.1"/><line x1="808.13" y1="1213.5" x2="808.13" y2="1209.9" stroke-width="1.1"/><line x1="819.72" y1="1213.5" x2="819.72" y2="1209.9" stroke-width="1.1"/><line x1="829.52" y1="1213.5" x2="829.52" y2="1209.9" stroke-width="1.1"/><line x1="838.01" y1="1213.5" x2="838.01" y2="1209.9" stroke-width="1.1"/><line x1="845.49" y1="1213.5" x2="845.49" y2="1209.9" stroke-width="1.1"/><line x1="852.19" y1="1213.5" x2="852.19" y2="1206.7" stroke-width="1.4"/><line x1="896.25" y1="1213.5" x2="896.25" y2="1209.9" stroke-width="1.1"/><line x1="922.02" y1="1213.5" x2="922.02" y2="1209.9" stroke-width="1.1"/><line x1="940.3" y1="1213.5" x2="940.3" y2="1209.9" stroke-width="1.1"/><line x1="954.48" y1="1213.5" x2="954.48" y2="1209.9" stroke-width="1.1"/><line x1="966.07" y1="1213.5" x2="966.07" y2="1209.9" stroke-width="1.1"/><line x1="975.87" y1="1213.5" x2="975.87" y2="1209.9" stroke-width="1.1"/><line x1="984.36" y1="1213.5" x2="984.36" y2="1209.9" stroke-width="1.1"/><line x1="991.84" y1="1213.5" x2="991.84" y2="1209.9" stroke-width="1.1"/><line x1="998.54" y1="1213.5" x2="998.54" y2="1206.7" stroke-width="1.4"/><line x1="1042.6" y1="1213.5" x2="1042.6" y2="1209.9" stroke-width="1.1"/><line x1="1068.37" y1="1213.5" x2="1068.37" y2="1209.9" stroke-width="1.1"/><line x1="1086.65" y1="1213.5" x2="1086.65" y2="1209.9" stroke-width="1.1"/><line x1="1100.83" y1="1213.5" x2="1100.83" y2="1209.9" stroke-width="1.1"/><line x1="1112.42" y1="1213.5" x2="1112.42" y2="1209.9" stroke-width="1.1"/><line x1="1122.22" y1="1213.5" x2="1122.22" y2="1209.9" stroke-width="1.1"/><line x1="1130.71" y1="1213.5" x2="1130.71" y2="1209.9" stroke-width="1.1"/><line x1="1138.19" y1="1213.5" x2="1138.19" y2="1209.9" stroke-width="1.1"/><line x1="1144.89" y1="1213.5" x2="1144.89" y2="1206.7" stroke-width="1.4"/><line x1="527" y1="1209.68" x2="530.6" y2="1209.68" stroke-width="1.1"/><line x1="1171" y1="1209.68" x2="1167.4" y2="1209.68" stroke-width="1.1"/><line x1="527" y1="1206.23" x2="530.6" y2="1206.23" stroke-width="1.1"/><line x1="1171" y1="1206.23" x2="1167.4" y2="1206.23" stroke-width="1.1"/><line x1="527" y1="1203.19" x2="530.6" y2="1203.19" stroke-width="1.1"/><line x1="1171" y1="1203.19" x2="1167.4" y2="1203.19" stroke-width="1.1"/><line x1="527" y1="1200.47" x2="533.8" y2="1200.47" stroke-width="1.4"/><line x1="1171" y1="1200.47" x2="1164.2" y2="1200.47" stroke-width="1.4"/><line x1="527" y1="1182.57" x2="530.6" y2="1182.57" stroke-width="1.1"/><line x1="1171" y1="1182.57" x2="1167.4" y2="1182.57" stroke-width="1.1"/><line x1="527" y1="1172.1" x2="530.6" y2="1172.1" stroke-width="1.1"/><line x1="1171" y1="1172.1" x2="1167.4" y2="1172.1" stroke-width="1.1"/><line x1="527" y1="1164.67" x2="530.6" y2="1164.67" stroke-width="1.1"/><line x1="1171" y1="1164.67" x2="1167.4" y2="1164.67" stroke-width="1.1"/><line x1="527" y1="1158.91" x2="530.6" y2="1158.91" stroke-width="1.1"/><line x1="1171" y1="1158.91" x2="1167.4" y2="1158.91" stroke-width="1.1"/><line x1="527" y1="1154.2" x2="530.6" y2="1154.2" stroke-width="1.1"/><line x1="1171" y1="1154.2" x2="1167.4" y2="1154.2" stroke-width="1.1"/><line x1="527" y1="1150.22" x2="530.6" y2="1150.22" stroke-width="1.1"/><line x1="1171" y1="1150.22" x2="1167.4" y2="1150.22" stroke-width="1.1"/><line x1="527" y1="1146.77" x2="530.6" y2="1146.77" stroke-width="1.1"/><line x1="1171" y1="1146.77" x2="1167.4" y2="1146.77" stroke-width="1.1"/><line x1="527" y1="1143.73" x2="530.6" y2="1143.73" stroke-width="1.1"/><line x1="1171" y1="1143.73" x2="1167.4" y2="1143.73" stroke-width="1.1"/><line x1="527" y1="1141.01" x2="533.8" y2="1141.01" stroke-width="1.4"/><line x1="1171" y1="1141.01" x2="1164.2" y2="1141.01" stroke-width="1.4"/><line x1="527" y1="1123.11" x2="530.6" y2="1123.11" stroke-width="1.1"/><line x1="1171" y1="1123.11" x2="1167.4" y2="1123.11" stroke-width="1.1"/><line x1="527" y1="1112.64" x2="530.6" y2="1112.64" stroke-width="1.1"/><line x1="1171" y1="1112.64" x2="1167.4" y2="1112.64" stroke-width="1.1"/><line x1="527" y1="1105.21" x2="530.6" y2="1105.21" stroke-width="1.1"/><line x1="1171" y1="1105.21" x2="1167.4" y2="1105.21" stroke-width="1.1"/><line x1="527" y1="1099.45" x2="530.6" y2="1099.45" stroke-width="1.1"/><line x1="1171" y1="1099.45" x2="1167.4" y2="1099.45" stroke-width="1.1"/><line x1="527" y1="1094.74" x2="530.6" y2="1094.74" stroke-width="1.1"/><line x1="1171" y1="1094.74" x2="1167.4" y2="1094.74" stroke-width="1.1"/><line x1="527" y1="1090.76" x2="530.6" y2="1090.76" stroke-width="1.1"/><line x1="1171" y1="1090.76" x2="1167.4" y2="1090.76" stroke-width="1.1"/><line x1="527" y1="1087.31" x2="530.6" y2="1087.31" stroke-width="1.1"/><line x1="1171" y1="1087.31" x2="1167.4" y2="1087.31" stroke-width="1.1"/><line x1="527" y1="1084.27" x2="530.6" y2="1084.27" stroke-width="1.1"/><line x1="1171" y1="1084.27" x2="1167.4" y2="1084.27" stroke-width="1.1"/><line x1="527" y1="1081.55" x2="533.8" y2="1081.55" stroke-width="1.4"/><line x1="1171" y1="1081.55" x2="1164.2" y2="1081.55" stroke-width="1.4"/><line x1="527" y1="1063.65" x2="530.6" y2="1063.65" stroke-width="1.1"/><line x1="1171" y1="1063.65" x2="1167.4" y2="1063.65" stroke-width="1.1"/><line x1="527" y1="1053.18" x2="530.6" y2="1053.18" stroke-width="1.1"/><line x1="1171" y1="1053.18" x2="1167.4" y2="1053.18" stroke-width="1.1"/><line x1="527" y1="1045.75" x2="530.6" y2="1045.75" stroke-width="1.1"/><line x1="1171" y1="1045.75" x2="1167.4" y2="1045.75" stroke-width="1.1"/><line x1="527" y1="1039.99" x2="530.6" y2="1039.99" stroke-width="1.1"/><line x1="1171" y1="1039.99" x2="1167.4" y2="1039.99" stroke-width="1.1"/><line x1="527" y1="1035.28" x2="530.6" y2="1035.28" stroke-width="1.1"/><line x1="1171" y1="1035.28" x2="1167.4" y2="1035.28" stroke-width="1.1"/><line x1="527" y1="1031.3" x2="530.6" y2="1031.3" stroke-width="1.1"/><line x1="1171" y1="1031.3" x2="1167.4" y2="1031.3" stroke-width="1.1"/><line x1="527" y1="1027.85" x2="530.6" y2="1027.85" stroke-width="1.1"/><line x1="1171" y1="1027.85" x2="1167.4" y2="1027.85" stroke-width="1.1"/><line x1="527" y1="1024.81" x2="530.6" y2="1024.81" stroke-width="1.1"/><line x1="1171" y1="1024.81" x2="1167.4" y2="1024.81" stroke-width="1.1"/><line x1="527" y1="1022.09" x2="533.8" y2="1022.09" stroke-width="1.4"/><line x1="1171" y1="1022.09" x2="1164.2" y2="1022.09" stroke-width="1.4"/><line x1="527" y1="1004.19" x2="530.6" y2="1004.19" stroke-width="1.1"/><line x1="1171" y1="1004.19" x2="1167.4" y2="1004.19" stroke-width="1.1"/><line x1="527" y1="993.72" x2="530.6" y2="993.72" stroke-width="1.1"/><line x1="1171" y1="993.72" x2="1167.4" y2="993.72" stroke-width="1.1"/><line x1="527" y1="986.29" x2="530.6" y2="986.29" stroke-width="1.1"/><line x1="1171" y1="986.29" x2="1167.4" y2="986.29" stroke-width="1.1"/><line x1="527" y1="980.53" x2="530.6" y2="980.53" stroke-width="1.1"/><line x1="1171" y1="980.53" x2="1167.4" y2="980.53" stroke-width="1.1"/><line x1="527" y1="975.82" x2="530.6" y2="975.82" stroke-width="1.1"/><line x1="1171" y1="975.82" x2="1167.4" y2="975.82" stroke-width="1.1"/><line x1="527" y1="971.84" x2="530.6" y2="971.84" stroke-width="1.1"/><line x1="1171" y1="971.84" x2="1167.4" y2="971.84" stroke-width="1.1"/><line x1="527" y1="968.39" x2="530.6" y2="968.39" stroke-width="1.1"/><line x1="1171" y1="968.39" x2="1167.4" y2="968.39" stroke-width="1.1"/><line x1="527" y1="965.35" x2="530.6" y2="965.35" stroke-width="1.1"/><line x1="1171" y1="965.35" x2="1167.4" y2="965.35" stroke-width="1.1"/><line x1="527" y1="962.63" x2="533.8" y2="962.63" stroke-width="1.4"/><line x1="1171" y1="962.63" x2="1164.2" y2="962.63" stroke-width="1.4"/><line x1="527" y1="944.73" x2="530.6" y2="944.73" stroke-width="1.1"/><line x1="1171" y1="944.73" x2="1167.4" y2="944.73" stroke-width="1.1"/><line x1="527" y1="934.26" x2="530.6" y2="934.26" stroke-width="1.1"/><line x1="1171" y1="934.26" x2="1167.4" y2="934.26" stroke-width="1.1"/><line x1="527" y1="926.83" x2="530.6" y2="926.83" stroke-width="1.1"/><line x1="1171" y1="926.83" x2="1167.4" y2="926.83" stroke-width="1.1"/><line x1="527" y1="921.07" x2="530.6" y2="921.07" stroke-width="1.1"/><line x1="1171" y1="921.07" x2="1167.4" y2="921.07" stroke-width="1.1"/><line x1="527" y1="916.36" x2="530.6" y2="916.36" stroke-width="1.1"/><line x1="1171" y1="916.36" x2="1167.4" y2="916.36" stroke-width="1.1"/><line x1="527" y1="912.38" x2="530.6" y2="912.38" stroke-width="1.1"/><line x1="1171" y1="912.38" x2="1167.4" y2="912.38" stroke-width="1.1"/><line x1="527" y1="908.93" x2="530.6" y2="908.93" stroke-width="1.1"/><line x1="1171" y1="908.93" x2="1167.4" y2="908.93" stroke-width="1.1"/><line x1="527" y1="905.89" x2="530.6" y2="905.89" stroke-width="1.1"/><line x1="1171" y1="905.89" x2="1167.4" y2="905.89" stroke-width="1.1"/><line x1="527" y1="903.17" x2="533.8" y2="903.17" stroke-width="1.4"/><line x1="1171" y1="903.17" x2="1164.2" y2="903.17" stroke-width="1.4"/><line x1="527" y1="885.27" x2="530.6" y2="885.27" stroke-width="1.1"/><line x1="1171" y1="885.27" x2="1167.4" y2="885.27" stroke-width="1.1"/><line x1="527" y1="874.8" x2="530.6" y2="874.8" stroke-width="1.1"/><line x1="1171" y1="874.8" x2="1167.4" y2="874.8" stroke-width="1.1"/><line x1="527" y1="867.37" x2="530.6" y2="867.37" stroke-width="1.1"/><line x1="1171" y1="867.37" x2="1167.4" y2="867.37" stroke-width="1.1"/><line x1="527" y1="861.61" x2="530.6" y2="861.61" stroke-width="1.1"/><line x1="1171" y1="861.61" x2="1167.4" y2="861.61" stroke-width="1.1"/><line x1="527" y1="856.9" x2="530.6" y2="856.9" stroke-width="1.1"/><line x1="1171" y1="856.9" x2="1167.4" y2="856.9" stroke-width="1.1"/><line x1="527" y1="852.92" x2="530.6" y2="852.92" stroke-width="1.1"/><line x1="1171" y1="852.92" x2="1167.4" y2="852.92" stroke-width="1.1"/><line x1="527" y1="849.47" x2="530.6" y2="849.47" stroke-width="1.1"/><line x1="1171" y1="849.47" x2="1167.4" y2="849.47" stroke-width="1.1"/><line x1="527" y1="846.43" x2="530.6" y2="846.43" stroke-width="1.1"/><line x1="1171" y1="846.43" x2="1167.4" y2="846.43" stroke-width="1.1"/><line x1="527" y1="843.71" x2="533.8" y2="843.71" stroke-width="1.4"/><line x1="1171" y1="843.71" x2="1164.2" y2="843.71" stroke-width="1.4"/><line x1="527" y1="825.81" x2="530.6" y2="825.81" stroke-width="1.1"/><line x1="1171" y1="825.81" x2="1167.4" y2="825.81" stroke-width="1.1"/><line x1="527" y1="815.34" x2="530.6" y2="815.34" stroke-width="1.1"/><line x1="1171" y1="815.34" x2="1167.4" y2="815.34" stroke-width="1.1"/><line x1="527" y1="807.91" x2="530.6" y2="807.91" stroke-width="1.1"/><line x1="1171" y1="807.91" x2="1167.4" y2="807.91" stroke-width="1.1"/><line x1="527" y1="802.15" x2="530.6" y2="802.15" stroke-width="1.1"/><line x1="1171" y1="802.15" x2="1167.4" y2="802.15" stroke-width="1.1"/><line x1="527" y1="797.44" x2="530.6" y2="797.44" stroke-width="1.1"/><line x1="1171" y1="797.44" x2="1167.4" y2="797.44" stroke-width="1.1"/><line x1="527" y1="793.46" x2="530.6" y2="793.46" stroke-width="1.1"/><line x1="1171" y1="793.46" x2="1167.4" y2="793.46" stroke-width="1.1"/><line x1="527" y1="790.01" x2="530.6" y2="790.01" stroke-width="1.1"/><line x1="1171" y1="790.01" x2="1167.4" y2="790.01" stroke-width="1.1"/><line x1="527" y1="786.97" x2="530.6" y2="786.97" stroke-width="1.1"/><line x1="1171" y1="786.97" x2="1167.4" y2="786.97" stroke-width="1.1"/><line x1="527" y1="784.25" x2="533.8" y2="784.25" stroke-width="1.4"/><line x1="1171" y1="784.25" x2="1164.2" y2="784.25" stroke-width="1.4"/><line x1="527" y1="766.35" x2="530.6" y2="766.35" stroke-width="1.1"/><line x1="1171" y1="766.35" x2="1167.4" y2="766.35" stroke-width="1.1"/><line x1="527" y1="755.88" x2="530.6" y2="755.88" stroke-width="1.1"/><line x1="1171" y1="755.88" x2="1167.4" y2="755.88" stroke-width="1.1"/><line x1="527" y1="748.45" x2="530.6" y2="748.45" stroke-width="1.1"/><line x1="1171" y1="748.45" x2="1167.4" y2="748.45" stroke-width="1.1"/><line x1="527" y1="742.69" x2="530.6" y2="742.69" stroke-width="1.1"/><line x1="1171" y1="742.69" x2="1167.4" y2="742.69" stroke-width="1.1"/><line x1="527" y1="737.98" x2="530.6" y2="737.98" stroke-width="1.1"/><line x1="1171" y1="737.98" x2="1167.4" y2="737.98" stroke-width="1.1"/></g>
<rect x="527" y="734" width="644" height="479.5" fill="none" stroke="#000" stroke-width="1.7" stroke-linejoin="miter"/>
<g font-family="'DejaVu Sans', 'Liberation Sans', sans-serif" fill="#000">
<text x="538.59" y="1237.7" font-size="23.55">10</text>
<text x="568.56" y="1228.8" font-size="16.48">0</text>
<text x="684.94" y="1237.7" font-size="23.55">10</text>
<text x="714.91" y="1228.8" font-size="16.48">1</text>
<text x="831.29" y="1237.7" font-size="23.55">10</text>
<text x="861.26" y="1228.8" font-size="16.48">2</text>
<text x="977.64" y="1237.7" font-size="23.55">10</text>
<text x="1007.61" y="1228.8" font-size="16.48">3</text>
<text x="1123.99" y="1237.7" font-size="23.55">10</text>
<text x="1153.96" y="1228.8" font-size="16.48">4</text>
<text x="464.98" y="793" font-size="23.55">10</text>
<text x="494.95" y="784.1" font-size="16.48">−1</text>
<text x="464.98" y="852.46" font-size="23.55">10</text>
<text x="494.95" y="843.56" font-size="16.48">−2</text>
<text x="464.98" y="911.92" font-size="23.55">10</text>
<text x="494.95" y="903.02" font-size="16.48">−3</text>
<text x="464.98" y="971.38" font-size="23.55">10</text>
<text x="494.95" y="962.48" font-size="16.48">−4</text>
<text x="464.98" y="1030.84" font-size="23.55">10</text>
<text x="494.95" y="1021.94" font-size="16.48">−5</text>
<text x="464.98" y="1090.3" font-size="23.55">10</text>
<text x="494.95" y="1081.4" font-size="16.48">−6</text>
<text x="464.98" y="1149.76" font-size="23.55">10</text>
<text x="494.95" y="1140.86" font-size="16.48">−7</text>
<text x="464.98" y="1209.22" font-size="23.55">10</text>
<text x="494.95" y="1200.32" font-size="16.48">−8</text>
</g>
<g font-family="'DejaVu Sans', 'Liberation Sans', sans-serif" fill="#000">
<text x="764.15" y="1271.7" font-size="23.55">Energy (cm</text>
<text x="899.16" y="1262.8" font-size="16.48">−1</text>
<text x="923.46" y="1271.7" font-size="23.55">)</text>
<g transform="translate(451.05,974.25) rotate(-90)">
<text x="-106" y="0" font-size="23.55">Cross Section (Å</text>
<text x="86.32" y="-8.9" font-size="16.48">2</text>
<text x="96.81" y="0" font-size="23.55">)</text>
</g>
</g>
<rect x="1031.5" y="972.2" width="129.4" height="232" rx="4" ry="4" fill="#fff" stroke="#cccccc" stroke-width="1.5"/>
<g font-family="'DejaVu Sans', 'Liberation Sans', sans-serif" fill="#000">
<line x1="1037.2" y1="991.4" x2="1076.8" y2="991.4" stroke="#000000" stroke-width="3.3"/>
<text x="1089.3" y="996.41" font-size="17.9">j</text>
<text x="1094.27" y="1001.25" font-size="12.53">1</text>
<text x="0" y="0" font-size="12.53" transform="translate(1094.63,997.18) scale(1,1.9)">′</text>
<text x="1102.25" y="996.41" font-size="17.9" xml:space="preserve"> = 0</text>
<line x1="1037.2" y1="1023.73" x2="1076.8" y2="1023.73" stroke="#0000ff" stroke-width="3.3"/>
<text x="1089.3" y="1028.74" font-size="17.9">j</text>
<text x="1094.27" y="1033.58" font-size="12.53">1</text>
<text x="0" y="0" font-size="12.53" transform="translate(1094.63,1029.51) scale(1,1.9)">′</text>
<text x="1102.25" y="1028.74" font-size="17.9" xml:space="preserve"> = 2</text>
<line x1="1037.2" y1="1056.06" x2="1076.8" y2="1056.06" stroke="#ff0000" stroke-width="3.3"/>
<text x="1089.3" y="1061.07" font-size="17.9">j</text>
<text x="1094.27" y="1065.9" font-size="12.53">1</text>
<text x="0" y="0" font-size="12.53" transform="translate(1094.63,1061.84) scale(1,1.9)">′</text>
<text x="1102.25" y="1061.07" font-size="17.9" xml:space="preserve"> = 4</text>
<line x1="1037.2" y1="1088.39" x2="1076.8" y2="1088.39" stroke="#008000" stroke-width="3.3"/>
<text x="1089.3" y="1093.4" font-size="17.9">j</text>
<text x="1094.27" y="1098.23" font-size="12.53">1</text>
<text x="0" y="0" font-size="12.53" transform="translate(1094.63,1094.17) scale(1,1.9)">′</text>
<text x="1102.25" y="1093.4" font-size="17.9" xml:space="preserve"> = 6</text>
<line x1="1037.2" y1="1120.72" x2="1076.8" y2="1120.72" stroke="#800080" stroke-width="3.3"/>
<text x="1089.3" y="1125.73" font-size="17.9">j</text>
<text x="1094.27" y="1130.57" font-size="12.53">1</text>
<text x="0" y="0" font-size="12.53" transform="translate(1094.63,1126.5) scale(1,1.9)">′</text>
<text x="1102.25" y="1125.73" font-size="17.9" xml:space="preserve"> = 8</text>
<line x1="1037.2" y1="1153.05" x2="1076.8" y2="1153.05" stroke="#00ffff" stroke-width="3.3"/>
<text x="1089.3" y="1158.06" font-size="17.9">j</text>
<text x="1094.27" y="1162.89" font-size="12.53">1</text>
<text x="0" y="0" font-size="12.53" transform="translate(1094.63,1158.83) scale(1,1.9)">′</text>
<text x="1102.25" y="1158.06" font-size="17.9" xml:space="preserve"> = 10</text>
<line x1="1037.2" y1="1185.38" x2="1076.8" y2="1185.38" stroke="#000000" stroke-width="3.3"/>
<text x="1089.3" y="1190.39" font-size="17.9">j</text>
<text x="1094.27" y="1195.22" font-size="12.53">1</text>
<text x="0" y="0" font-size="12.53" transform="translate(1094.63,1191.16) scale(1,1.9)">′</text>
<text x="1102.25" y="1190.39" font-size="17.9" xml:space="preserve"> = 12</text>
</g>
<text x="824" y="1332.8" font-family="'Liberation Serif', 'DejaVu Serif', serif" font-size="40" text-anchor="middle" fill="#000">(<tspan font-size="37.5">c</tspan>)</text>
</svg></body></html>
